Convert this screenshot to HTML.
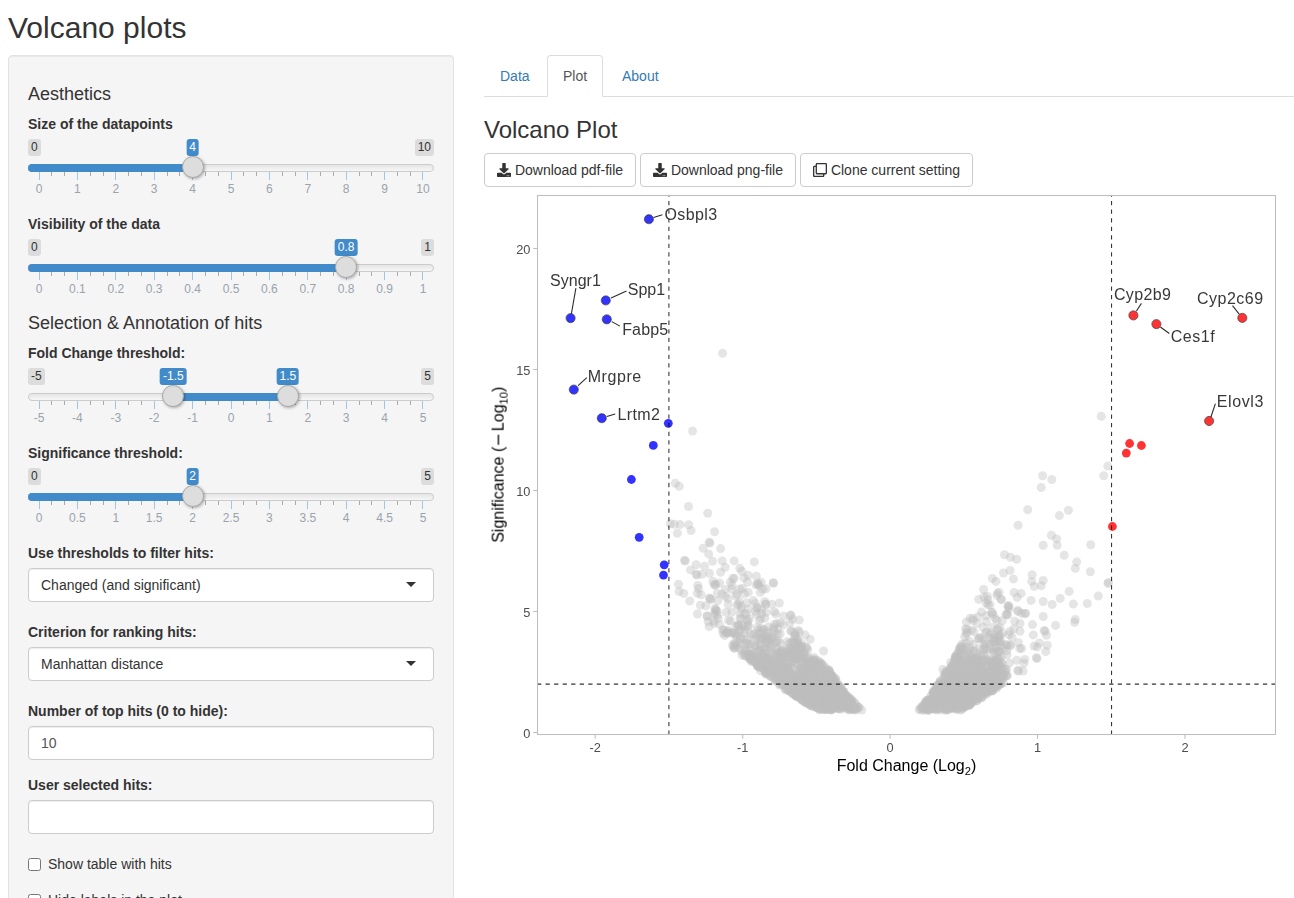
<!DOCTYPE html>
<html lang="en">
<head>
<meta charset="utf-8">
<title>Volcano plots</title>
<style>
*{box-sizing:border-box}
html,body{margin:0;padding:0}
body{font-family:"Liberation Sans",Arial,sans-serif;font-size:14px;line-height:1.42857143;color:#333;background:#fff;width:1294px;height:898px;overflow:hidden;position:relative}
h2{font-size:30px;font-weight:500;line-height:1.1;margin:0;color:#333;font-weight:normal}
h3{font-size:24px;font-weight:normal;line-height:1.1;margin:0;color:#333}
h4{font-size:18px;font-weight:normal;line-height:19px;margin:10px 0;color:#333}
#title{position:absolute;left:8px;top:11px;white-space:nowrap}
#side{position:absolute;left:8px;top:55px;width:446px;height:900px;background:#f5f5f5;border:1px solid #e3e3e3;border-radius:4px;padding:19px;box-shadow:inset 0 1px 1px rgba(0,0,0,.05)}
#side h4:first-child{margin-top:10px}
.fg{margin-bottom:15px}
.fg label{display:block;font-weight:bold;margin-bottom:5px;line-height:20px}
.irs{position:relative;height:60px;width:406px;font-family:"Liberation Sans",Arial,sans-serif}
.irs-line{position:absolute;left:0;top:25px;width:406px;height:8px;border:1px solid #ccc;border-radius:8px;background:linear-gradient(to bottom,#ddd -50%,#fff 150%)}
.irs-bar{position:absolute;top:25px;height:8px;background:#428bca;border-top:1px solid #428bca;border-bottom:1px solid #428bca}
.irs-bar.edge{border-radius:8px 0 0 8px}
.irs-h{position:absolute;top:17px;width:22px;height:22px;border:1px solid #aaa;background:#ddd;border-radius:50%;box-shadow:1px 1px 3px rgba(0,0,0,.3)}
.irs-mm{position:absolute;top:0;font-size:12px;line-height:14.5px;padding:1px 3px;background:rgba(0,0,0,.1);border-radius:3px;color:#333;white-space:nowrap}
.irs-v{position:absolute;top:0;font-size:12px;line-height:14.5px;padding:1px 3px;background:#428bca;border-radius:3px;color:#fff;white-space:nowrap;transform:translateX(-50%)}
.tk{position:absolute;top:33px;width:1px;height:4px;background:#aaa}
.tk.b{height:8px;background:#a1c5e4}
.gt{position:absolute;top:44px;font-size:12px;line-height:12px;color:#99a4ac;transform:translateX(-50%);white-space:nowrap}
.sel{position:relative;height:34px;border:1px solid #ccc;border-radius:4px;background:#fff;padding:6px 12px;line-height:20px;box-shadow:inset 0 1px 1px rgba(0,0,0,.075)}
.sel:after{content:"";position:absolute;right:17px;top:13px;border:5px solid transparent;border-top-color:#333;border-bottom-width:0}
.fg.s{margin-bottom:20px}
.inp{height:34px;border:1px solid #ccc;border-radius:4px;background:#fff;padding:6px 12px;line-height:20px;color:#555;box-shadow:inset 0 1px 1px rgba(0,0,0,.075)}
.cb{position:relative;margin:10px 0 10px 0;padding-left:20px;line-height:20px;height:20px}
.cb i{position:absolute;left:0;top:4px;width:13px;height:13px;border:1px solid #767676;border-radius:2.5px;background:#fff}
#main{position:absolute;left:484px;top:0;width:922px}
#tabs{position:absolute;left:0;top:55px;width:922px;height:42px;border-bottom:1px solid #ddd}
#tabs span{position:absolute;top:0;height:42px;line-height:20px;padding:10px 15px;color:#337ab7;border:1px solid transparent;border-radius:4px 4px 0 0}
#tabs span.act{color:#555;background:#fff;border-color:#ddd;border-bottom-color:#fff}
#ptitle{position:absolute;left:0;top:117px;white-space:nowrap}
.btn{position:absolute;top:153px;height:34px;border:1px solid #ccc;border-radius:4px;background:#fff;color:#333;padding:6px 12px;line-height:20px;white-space:nowrap}
.btn svg{display:inline-block;vertical-align:-2px;margin-right:0}
#plot{position:absolute;left:0;top:190px}
</style>
</head>
<body>
<div id="side">
<h4>Aesthetics</h4>
<div class="fg"><label>Size of the datapoints</label><div class="irs">
<div class="irs-line"></div>
<div class="irs-bar edge" style="left:0;width:164.6px"></div>
<span class="irs-mm" style="left:0">0</span>
<span class="irs-mm" style="right:0">10</span>
<i class="tk b" style="left:10.5px"></i>
<i class="tk" style="left:23.3px"></i>
<i class="tk" style="left:36.1px"></i>
<span class="gt" style="left:11.0px">0</span>
<i class="tk b" style="left:48.9px"></i>
<i class="tk" style="left:61.7px"></i>
<i class="tk" style="left:74.5px"></i>
<span class="gt" style="left:49.4px">1</span>
<i class="tk b" style="left:87.3px"></i>
<i class="tk" style="left:100.1px"></i>
<i class="tk" style="left:112.9px"></i>
<span class="gt" style="left:87.8px">2</span>
<i class="tk b" style="left:125.7px"></i>
<i class="tk" style="left:138.5px"></i>
<i class="tk" style="left:151.3px"></i>
<span class="gt" style="left:126.2px">3</span>
<i class="tk b" style="left:164.1px"></i>
<i class="tk" style="left:176.9px"></i>
<i class="tk" style="left:189.7px"></i>
<span class="gt" style="left:164.6px">4</span>
<i class="tk b" style="left:202.5px"></i>
<i class="tk" style="left:215.3px"></i>
<i class="tk" style="left:228.1px"></i>
<span class="gt" style="left:203.0px">5</span>
<i class="tk b" style="left:240.9px"></i>
<i class="tk" style="left:253.7px"></i>
<i class="tk" style="left:266.5px"></i>
<span class="gt" style="left:241.4px">6</span>
<i class="tk b" style="left:279.3px"></i>
<i class="tk" style="left:292.1px"></i>
<i class="tk" style="left:304.9px"></i>
<span class="gt" style="left:279.8px">7</span>
<i class="tk b" style="left:317.7px"></i>
<i class="tk" style="left:330.5px"></i>
<i class="tk" style="left:343.3px"></i>
<span class="gt" style="left:318.2px">8</span>
<i class="tk b" style="left:356.1px"></i>
<i class="tk" style="left:368.9px"></i>
<i class="tk" style="left:381.7px"></i>
<span class="gt" style="left:356.6px">9</span>
<i class="tk b" style="left:393.9px"></i>
<span class="gt" style="left:395.0px">10</span>
<span class="irs-v" style="left:164.6px">4</span>
<div class="irs-h" style="left:153.6px"></div>
</div></div>
<div class="fg"><label>Visibility of the data</label><div class="irs">
<div class="irs-line"></div>
<div class="irs-bar edge" style="left:0;width:318.2px"></div>
<span class="irs-mm" style="left:0">0</span>
<span class="irs-mm" style="right:0">1</span>
<i class="tk b" style="left:10.5px"></i>
<i class="tk" style="left:23.3px"></i>
<i class="tk" style="left:36.1px"></i>
<span class="gt" style="left:11.0px">0</span>
<i class="tk b" style="left:48.9px"></i>
<i class="tk" style="left:61.7px"></i>
<i class="tk" style="left:74.5px"></i>
<span class="gt" style="left:49.4px">0.1</span>
<i class="tk b" style="left:87.3px"></i>
<i class="tk" style="left:100.1px"></i>
<i class="tk" style="left:112.9px"></i>
<span class="gt" style="left:87.8px">0.2</span>
<i class="tk b" style="left:125.7px"></i>
<i class="tk" style="left:138.5px"></i>
<i class="tk" style="left:151.3px"></i>
<span class="gt" style="left:126.2px">0.3</span>
<i class="tk b" style="left:164.1px"></i>
<i class="tk" style="left:176.9px"></i>
<i class="tk" style="left:189.7px"></i>
<span class="gt" style="left:164.6px">0.4</span>
<i class="tk b" style="left:202.5px"></i>
<i class="tk" style="left:215.3px"></i>
<i class="tk" style="left:228.1px"></i>
<span class="gt" style="left:203.0px">0.5</span>
<i class="tk b" style="left:240.9px"></i>
<i class="tk" style="left:253.7px"></i>
<i class="tk" style="left:266.5px"></i>
<span class="gt" style="left:241.4px">0.6</span>
<i class="tk b" style="left:279.3px"></i>
<i class="tk" style="left:292.1px"></i>
<i class="tk" style="left:304.9px"></i>
<span class="gt" style="left:279.8px">0.7</span>
<i class="tk b" style="left:317.7px"></i>
<i class="tk" style="left:330.5px"></i>
<i class="tk" style="left:343.3px"></i>
<span class="gt" style="left:318.2px">0.8</span>
<i class="tk b" style="left:356.1px"></i>
<i class="tk" style="left:368.9px"></i>
<i class="tk" style="left:381.7px"></i>
<span class="gt" style="left:356.6px">0.9</span>
<i class="tk b" style="left:393.9px"></i>
<span class="gt" style="left:395.0px">1</span>
<span class="irs-v" style="left:318.2px">0.8</span>
<div class="irs-h" style="left:307.2px"></div>
</div></div>
<h4 class="h4b">Selection &amp; Annotation of hits</h4>
<div class="fg"><label>Fold Change threshold:</label><div class="irs">
<div class="irs-line"></div>
<div class="irs-bar" style="left:145.4px;width:115.2px"></div>
<span class="irs-mm" style="left:0">-5</span>
<span class="irs-mm" style="right:0">5</span>
<i class="tk b" style="left:10.5px"></i>
<i class="tk" style="left:23.3px"></i>
<i class="tk" style="left:36.1px"></i>
<span class="gt" style="left:11.0px">-5</span>
<i class="tk b" style="left:48.9px"></i>
<i class="tk" style="left:61.7px"></i>
<i class="tk" style="left:74.5px"></i>
<span class="gt" style="left:49.4px">-4</span>
<i class="tk b" style="left:87.3px"></i>
<i class="tk" style="left:100.1px"></i>
<i class="tk" style="left:112.9px"></i>
<span class="gt" style="left:87.8px">-3</span>
<i class="tk b" style="left:125.7px"></i>
<i class="tk" style="left:138.5px"></i>
<i class="tk" style="left:151.3px"></i>
<span class="gt" style="left:126.2px">-2</span>
<i class="tk b" style="left:164.1px"></i>
<i class="tk" style="left:176.9px"></i>
<i class="tk" style="left:189.7px"></i>
<span class="gt" style="left:164.6px">-1</span>
<i class="tk b" style="left:202.5px"></i>
<i class="tk" style="left:215.3px"></i>
<i class="tk" style="left:228.1px"></i>
<span class="gt" style="left:203.0px">0</span>
<i class="tk b" style="left:240.9px"></i>
<i class="tk" style="left:253.7px"></i>
<i class="tk" style="left:266.5px"></i>
<span class="gt" style="left:241.4px">1</span>
<i class="tk b" style="left:279.3px"></i>
<i class="tk" style="left:292.1px"></i>
<i class="tk" style="left:304.9px"></i>
<span class="gt" style="left:279.8px">2</span>
<i class="tk b" style="left:317.7px"></i>
<i class="tk" style="left:330.5px"></i>
<i class="tk" style="left:343.3px"></i>
<span class="gt" style="left:318.2px">3</span>
<i class="tk b" style="left:356.1px"></i>
<i class="tk" style="left:368.9px"></i>
<i class="tk" style="left:381.7px"></i>
<span class="gt" style="left:356.6px">4</span>
<i class="tk b" style="left:393.9px"></i>
<span class="gt" style="left:395.0px">5</span>
<span class="irs-v" style="left:145.4px">-1.5</span>
<div class="irs-h" style="left:134.4px"></div>
<span class="irs-v" style="left:259.8px">1.5</span>
<div class="irs-h" style="left:248.8px"></div>
</div></div>
<div class="fg"><label>Significance threshold:</label><div class="irs">
<div class="irs-line"></div>
<div class="irs-bar edge" style="left:0;width:164.6px"></div>
<span class="irs-mm" style="left:0">0</span>
<span class="irs-mm" style="right:0">5</span>
<i class="tk b" style="left:10.5px"></i>
<i class="tk" style="left:23.3px"></i>
<i class="tk" style="left:36.1px"></i>
<span class="gt" style="left:11.0px">0</span>
<i class="tk b" style="left:48.9px"></i>
<i class="tk" style="left:61.7px"></i>
<i class="tk" style="left:74.5px"></i>
<span class="gt" style="left:49.4px">0.5</span>
<i class="tk b" style="left:87.3px"></i>
<i class="tk" style="left:100.1px"></i>
<i class="tk" style="left:112.9px"></i>
<span class="gt" style="left:87.8px">1</span>
<i class="tk b" style="left:125.7px"></i>
<i class="tk" style="left:138.5px"></i>
<i class="tk" style="left:151.3px"></i>
<span class="gt" style="left:126.2px">1.5</span>
<i class="tk b" style="left:164.1px"></i>
<i class="tk" style="left:176.9px"></i>
<i class="tk" style="left:189.7px"></i>
<span class="gt" style="left:164.6px">2</span>
<i class="tk b" style="left:202.5px"></i>
<i class="tk" style="left:215.3px"></i>
<i class="tk" style="left:228.1px"></i>
<span class="gt" style="left:203.0px">2.5</span>
<i class="tk b" style="left:240.9px"></i>
<i class="tk" style="left:253.7px"></i>
<i class="tk" style="left:266.5px"></i>
<span class="gt" style="left:241.4px">3</span>
<i class="tk b" style="left:279.3px"></i>
<i class="tk" style="left:292.1px"></i>
<i class="tk" style="left:304.9px"></i>
<span class="gt" style="left:279.8px">3.5</span>
<i class="tk b" style="left:317.7px"></i>
<i class="tk" style="left:330.5px"></i>
<i class="tk" style="left:343.3px"></i>
<span class="gt" style="left:318.2px">4</span>
<i class="tk b" style="left:356.1px"></i>
<i class="tk" style="left:368.9px"></i>
<i class="tk" style="left:381.7px"></i>
<span class="gt" style="left:356.6px">4.5</span>
<i class="tk b" style="left:393.9px"></i>
<span class="gt" style="left:395.0px">5</span>
<span class="irs-v" style="left:164.6px">2</span>
<div class="irs-h" style="left:153.6px"></div>
</div></div>
<div class="fg s"><label>Use thresholds to filter hits:</label><div class="sel">Changed (and significant)</div></div>
<div class="fg s"><label>Criterion for ranking hits:</label><div class="sel">Manhattan distance</div></div>
<div class="fg"><label>Number of top hits (0 to hide):</label><div class="inp">10</div></div>
<div class="fg"><label>User selected hits:</label><div class="inp"></div></div>
<div class="cb" style="margin-top:20px"><i></i>Show table with hits</div>
<div class="cb" style="margin-top:15.5px"><i></i>Hide labels in the plot</div>
</div>
<h2 id="title">Volcano plots</h2>
<div id="main">
<div id="tabs"><span style="left:0">Data</span><span class="act" style="left:63px">Plot</span><span style="left:122px">About</span></div>
<h3 id="ptitle">Volcano Plot</h3>
<div class="btn" style="left:0;width:152px"><svg width="14" height="14" viewBox="0 0 512 512"><path fill="#333" d="M216 0h80c13.300 0 24 10.700 24 24v168h87.700c17.800 0 26.700 21.500 14.100 34.100L269.700 378.300c-7.500 7.500-19.800 7.500-27.300 0L90.100 226.100c-12.600-12.600-3.700-34.100 14.100-34.100H192V24c0-13.300 10.700-24 24-24zm296 376v112c0 13.300-10.700 24-24 24H24c-13.300 0-24-10.700-24-24V376c0-13.300 10.700-24 24-24h146.700l49 49c20.100 20.100 52.500 20.100 72.600 0l49-49H488c13.300 0 24 10.700 24 24zm-124 88c0-11-9-20-20-20s-20 9-20 20 9 20 20 20 20-9 20-20zm64 0c0-11-9-20-20-20s-20 9-20 20 9 20 20 20 20-9 20-20z"/></svg> Download pdf-file</div>
<div class="btn" style="left:156px;width:156px"><svg width="14" height="14" viewBox="0 0 512 512"><path fill="#333" d="M216 0h80c13.300 0 24 10.700 24 24v168h87.700c17.800 0 26.700 21.500 14.100 34.100L269.700 378.300c-7.500 7.500-19.800 7.500-27.300 0L90.100 226.100c-12.600-12.600-3.700-34.100 14.100-34.100H192V24c0-13.300 10.700-24 24-24zm296 376v112c0 13.300-10.700 24-24 24H24c-13.300 0-24-10.700-24-24V376c0-13.300 10.700-24 24-24h146.700l49 49c20.100 20.100 52.500 20.100 72.600 0l49-49H488c13.300 0 24 10.700 24 24zm-124 88c0-11-9-20-20-20s-20 9-20 20 9 20 20 20 20-9 20-20zm64 0c0-11-9-20-20-20s-20 9-20 20 9 20 20 20 20-9 20-20z"/></svg> Download png-file</div>
<div class="btn" style="left:316px;width:173px"><svg width="14" height="14" viewBox="0 0 512 512"><path fill="#333" d="M464 0H144c-26.510 0-48 21.490-48 48v48H48c-26.510 0-48 21.490-48 48v320c0 26.510 21.490 48 48 48h320c26.510 0 48-21.490 48-48v-48h48c26.510 0 48-21.490 48-48V48c0-26.510-21.490-48-48-48zM362 464H54a6 6 0 0 1-6-6V150a6 6 0 0 1 6-6h42v224c0 26.510 21.490 48 48 48h224v42a6 6 0 0 1-6 6zm96-96H150a6 6 0 0 1-6-6V54a6 6 0 0 1 6-6h308a6 6 0 0 1 6 6v308a6 6 0 0 1-6 6z"/></svg> Clone current setting</div>
<svg id="plot" width="800" height="600" viewBox="0 0 800 600" font-family="&quot;Liberation Sans&quot;,Arial,sans-serif">
<rect width="800" height="600" fill="#fff"/>
<g fill="#bebebe" fill-opacity=".4">
<circle cx="343" cy="483.8" r="4.5"/>
<circle cx="329.4" cy="485.6" r="4.5"/>
<circle cx="359.5" cy="503" r="4.5"/>
<circle cx="341.3" cy="507.7" r="4.5"/>
<circle cx="330.6" cy="494.6" r="4.5"/>
<circle cx="266.7" cy="465.9" r="4.5"/>
<circle cx="344.5" cy="490" r="4.5"/>
<circle cx="357.4" cy="515.5" r="4.5"/>
<circle cx="301.5" cy="481.7" r="4.5"/>
<circle cx="281.4" cy="478.1" r="4.5"/>
<circle cx="312.1" cy="487.8" r="4.5"/>
<circle cx="282.6" cy="479.4" r="4.5"/>
<circle cx="362.9" cy="505.9" r="4.5"/>
<circle cx="319.6" cy="478.6" r="4.5"/>
<circle cx="297.5" cy="469.1" r="4.5"/>
<circle cx="339.1" cy="510.2" r="4.5"/>
<circle cx="340.2" cy="518" r="4.5"/>
<circle cx="282.4" cy="483.1" r="4.5"/>
<circle cx="325" cy="509.1" r="4.5"/>
<circle cx="325.7" cy="471" r="4.5"/>
<circle cx="354.5" cy="518.2" r="4.5"/>
<circle cx="333.3" cy="489.3" r="4.5"/>
<circle cx="344.8" cy="485.5" r="4.5"/>
<circle cx="341.5" cy="509.1" r="4.5"/>
<circle cx="334.9" cy="489.8" r="4.5"/>
<circle cx="327.2" cy="503.1" r="4.5"/>
<circle cx="350.6" cy="492.5" r="4.5"/>
<circle cx="303.3" cy="478.1" r="4.5"/>
<circle cx="366.2" cy="515.2" r="4.5"/>
<circle cx="285.6" cy="470.6" r="4.5"/>
<circle cx="289.6" cy="478.7" r="4.5"/>
<circle cx="300" cy="487.1" r="4.5"/>
<circle cx="353.2" cy="500.1" r="4.5"/>
<circle cx="343.4" cy="502.6" r="4.5"/>
<circle cx="335.5" cy="497.9" r="4.5"/>
<circle cx="314" cy="501.9" r="4.5"/>
<circle cx="333.9" cy="499" r="4.5"/>
<circle cx="344.7" cy="501.4" r="4.5"/>
<circle cx="319.4" cy="486.4" r="4.5"/>
<circle cx="309.8" cy="472.5" r="4.5"/>
<circle cx="353.2" cy="513" r="4.5"/>
<circle cx="286.8" cy="479.8" r="4.5"/>
<circle cx="306.7" cy="472.9" r="4.5"/>
<circle cx="335.9" cy="518.3" r="4.5"/>
<circle cx="324.1" cy="504.5" r="4.5"/>
<circle cx="337.9" cy="473.7" r="4.5"/>
<circle cx="269.1" cy="464.9" r="4.5"/>
<circle cx="265.1" cy="467.1" r="4.5"/>
<circle cx="320.5" cy="480.2" r="4.5"/>
<circle cx="280.8" cy="481.8" r="4.5"/>
<circle cx="364" cy="514.1" r="4.5"/>
<circle cx="349" cy="499.4" r="4.5"/>
<circle cx="310.9" cy="492.6" r="4.5"/>
<circle cx="338" cy="475" r="4.5"/>
<circle cx="329" cy="481" r="4.5"/>
<circle cx="342.2" cy="483.2" r="4.5"/>
<circle cx="341.2" cy="519.1" r="4.5"/>
<circle cx="351.5" cy="489.2" r="4.5"/>
<circle cx="299.6" cy="479.9" r="4.5"/>
<circle cx="363.4" cy="511.8" r="4.5"/>
<circle cx="362" cy="507.8" r="4.5"/>
<circle cx="290.6" cy="473" r="4.5"/>
<circle cx="353.9" cy="518.5" r="4.5"/>
<circle cx="360.7" cy="505.8" r="4.5"/>
<circle cx="356.4" cy="496.5" r="4.5"/>
<circle cx="347.3" cy="485.1" r="4.5"/>
<circle cx="305.1" cy="497.4" r="4.5"/>
<circle cx="352.8" cy="513.5" r="4.5"/>
<circle cx="273.7" cy="471" r="4.5"/>
<circle cx="330.9" cy="497.4" r="4.5"/>
<circle cx="298.1" cy="463.4" r="4.5"/>
<circle cx="324.3" cy="498.8" r="4.5"/>
<circle cx="298.4" cy="489.2" r="4.5"/>
<circle cx="319.6" cy="480.6" r="4.5"/>
<circle cx="331.4" cy="492.5" r="4.5"/>
<circle cx="306.3" cy="500.2" r="4.5"/>
<circle cx="313.2" cy="461" r="4.5"/>
<circle cx="317.9" cy="476.1" r="4.5"/>
<circle cx="342.9" cy="517" r="4.5"/>
<circle cx="329.4" cy="500.5" r="4.5"/>
<circle cx="333.8" cy="484.1" r="4.5"/>
<circle cx="321.6" cy="482.2" r="4.5"/>
<circle cx="337.5" cy="511.2" r="4.5"/>
<circle cx="289.6" cy="474.7" r="4.5"/>
<circle cx="312" cy="506.1" r="4.5"/>
<circle cx="345.2" cy="513.4" r="4.5"/>
<circle cx="335.9" cy="502.6" r="4.5"/>
<circle cx="345.5" cy="514.3" r="4.5"/>
<circle cx="349.4" cy="493.9" r="4.5"/>
<circle cx="344.8" cy="498.4" r="4.5"/>
<circle cx="367.2" cy="511.1" r="4.5"/>
<circle cx="274.5" cy="476.1" r="4.5"/>
<circle cx="346.5" cy="491.6" r="4.5"/>
<circle cx="353.7" cy="506.9" r="4.5"/>
<circle cx="295.2" cy="476.6" r="4.5"/>
<circle cx="292.1" cy="490.5" r="4.5"/>
<circle cx="359.5" cy="505.5" r="4.5"/>
<circle cx="317.1" cy="498.3" r="4.5"/>
<circle cx="351.8" cy="517.9" r="4.5"/>
<circle cx="327.7" cy="506.6" r="4.5"/>
<circle cx="356.5" cy="503.1" r="4.5"/>
<circle cx="342.9" cy="498.9" r="4.5"/>
<circle cx="310.6" cy="497.5" r="4.5"/>
<circle cx="342.3" cy="519.4" r="4.5"/>
<circle cx="339.3" cy="508.7" r="4.5"/>
<circle cx="327.8" cy="491.8" r="4.5"/>
<circle cx="318.8" cy="498.8" r="4.5"/>
<circle cx="336.4" cy="486.7" r="4.5"/>
<circle cx="337.1" cy="511.5" r="4.5"/>
<circle cx="281.5" cy="483.7" r="4.5"/>
<circle cx="306.7" cy="498.6" r="4.5"/>
<circle cx="259.6" cy="463.5" r="4.5"/>
<circle cx="341.3" cy="516.9" r="4.5"/>
<circle cx="321.5" cy="506.1" r="4.5"/>
<circle cx="315.8" cy="488.8" r="4.5"/>
<circle cx="312.4" cy="493.3" r="4.5"/>
<circle cx="343.4" cy="519.5" r="4.5"/>
<circle cx="297.8" cy="487.1" r="4.5"/>
<circle cx="292.7" cy="475.9" r="4.5"/>
<circle cx="329.5" cy="498.5" r="4.5"/>
<circle cx="332.7" cy="500.1" r="4.5"/>
<circle cx="335.3" cy="502.8" r="4.5"/>
<circle cx="363.5" cy="509.2" r="4.5"/>
<circle cx="282.2" cy="474.8" r="4.5"/>
<circle cx="335.6" cy="503.8" r="4.5"/>
<circle cx="338.8" cy="511.4" r="4.5"/>
<circle cx="298" cy="494.2" r="4.5"/>
<circle cx="346.3" cy="512.1" r="4.5"/>
<circle cx="331.6" cy="475.3" r="4.5"/>
<circle cx="331.7" cy="517" r="4.5"/>
<circle cx="362" cy="515" r="4.5"/>
<circle cx="343.7" cy="518.3" r="4.5"/>
<circle cx="312.1" cy="468.1" r="4.5"/>
<circle cx="353.2" cy="509.6" r="4.5"/>
<circle cx="326.3" cy="482" r="4.5"/>
<circle cx="294.7" cy="490.3" r="4.5"/>
<circle cx="315.1" cy="493.7" r="4.5"/>
<circle cx="355.6" cy="511.5" r="4.5"/>
<circle cx="331.2" cy="481.6" r="4.5"/>
<circle cx="301.6" cy="485.2" r="4.5"/>
<circle cx="375.1" cy="517.6" r="4.5"/>
<circle cx="269.3" cy="470.3" r="4.5"/>
<circle cx="335.5" cy="485.5" r="4.5"/>
<circle cx="265.6" cy="469.1" r="4.5"/>
<circle cx="347.8" cy="492.7" r="4.5"/>
<circle cx="286.2" cy="471.7" r="4.5"/>
<circle cx="332.7" cy="488.6" r="4.5"/>
<circle cx="362.7" cy="514.8" r="4.5"/>
<circle cx="316.3" cy="489.8" r="4.5"/>
<circle cx="277.2" cy="466.3" r="4.5"/>
<circle cx="320.4" cy="503.3" r="4.5"/>
<circle cx="360.9" cy="518.2" r="4.5"/>
<circle cx="305.8" cy="498.3" r="4.5"/>
<circle cx="336.2" cy="510.9" r="4.5"/>
<circle cx="312.2" cy="491.3" r="4.5"/>
<circle cx="303.6" cy="473.9" r="4.5"/>
<circle cx="332.9" cy="493.9" r="4.5"/>
<circle cx="324" cy="496.9" r="4.5"/>
<circle cx="289.7" cy="470.6" r="4.5"/>
<circle cx="367.5" cy="511.7" r="4.5"/>
<circle cx="351.5" cy="506.2" r="4.5"/>
<circle cx="332.5" cy="480.3" r="4.5"/>
<circle cx="311" cy="504.7" r="4.5"/>
<circle cx="301.3" cy="492.8" r="4.5"/>
<circle cx="317" cy="484.9" r="4.5"/>
<circle cx="319.6" cy="490.1" r="4.5"/>
<circle cx="302.8" cy="493.3" r="4.5"/>
<circle cx="317.8" cy="466.8" r="4.5"/>
<circle cx="335.8" cy="496.2" r="4.5"/>
<circle cx="320.3" cy="511.8" r="4.5"/>
<circle cx="296" cy="465.4" r="4.5"/>
<circle cx="295.3" cy="485.3" r="4.5"/>
<circle cx="272.6" cy="473.5" r="4.5"/>
<circle cx="318.9" cy="491.9" r="4.5"/>
<circle cx="326.8" cy="475.5" r="4.5"/>
<circle cx="326" cy="479.1" r="4.5"/>
<circle cx="356.7" cy="516.1" r="4.5"/>
<circle cx="342.9" cy="500.5" r="4.5"/>
<circle cx="304.5" cy="500.2" r="4.5"/>
<circle cx="273.5" cy="474.9" r="4.5"/>
<circle cx="365.2" cy="508.5" r="4.5"/>
<circle cx="351.4" cy="512.3" r="4.5"/>
<circle cx="346.3" cy="510.6" r="4.5"/>
<circle cx="323.4" cy="471.1" r="4.5"/>
<circle cx="296.6" cy="482.6" r="4.5"/>
<circle cx="297.3" cy="465.3" r="4.5"/>
<circle cx="335.5" cy="519.8" r="4.5"/>
<circle cx="281.2" cy="470.9" r="4.5"/>
<circle cx="366.9" cy="519.2" r="4.5"/>
<circle cx="358.1" cy="512.4" r="4.5"/>
<circle cx="305.7" cy="477.4" r="4.5"/>
<circle cx="341" cy="512.1" r="4.5"/>
<circle cx="326.2" cy="478.1" r="4.5"/>
<circle cx="298.6" cy="494.6" r="4.5"/>
<circle cx="321.4" cy="493.5" r="4.5"/>
<circle cx="318.9" cy="495.2" r="4.5"/>
<circle cx="326.1" cy="508.4" r="4.5"/>
<circle cx="324.1" cy="510.4" r="4.5"/>
<circle cx="322.6" cy="502.4" r="4.5"/>
<circle cx="328.2" cy="480.9" r="4.5"/>
<circle cx="325.8" cy="508.1" r="4.5"/>
<circle cx="356.6" cy="498.4" r="4.5"/>
<circle cx="370.8" cy="520" r="4.5"/>
<circle cx="318.3" cy="498.5" r="4.5"/>
<circle cx="324.4" cy="482.2" r="4.5"/>
<circle cx="314.4" cy="479.5" r="4.5"/>
<circle cx="278.8" cy="478.2" r="4.5"/>
<circle cx="309.2" cy="493.8" r="4.5"/>
<circle cx="284.8" cy="471.7" r="4.5"/>
<circle cx="331.9" cy="514.7" r="4.5"/>
<circle cx="337.2" cy="518.9" r="4.5"/>
<circle cx="322.6" cy="495.2" r="4.5"/>
<circle cx="339.7" cy="496.1" r="4.5"/>
<circle cx="355" cy="508.5" r="4.5"/>
<circle cx="339.4" cy="508.4" r="4.5"/>
<circle cx="316.9" cy="498.6" r="4.5"/>
<circle cx="282.8" cy="484.2" r="4.5"/>
<circle cx="343.4" cy="495.8" r="4.5"/>
<circle cx="328.5" cy="516.1" r="4.5"/>
<circle cx="348.2" cy="516" r="4.5"/>
<circle cx="318.3" cy="482.4" r="4.5"/>
<circle cx="339.1" cy="492" r="4.5"/>
<circle cx="300.5" cy="482.5" r="4.5"/>
<circle cx="299.3" cy="470.5" r="4.5"/>
<circle cx="352.5" cy="514" r="4.5"/>
<circle cx="335.7" cy="506.2" r="4.5"/>
<circle cx="333.3" cy="501.5" r="4.5"/>
<circle cx="335.6" cy="492" r="4.5"/>
<circle cx="313.2" cy="504.6" r="4.5"/>
<circle cx="313.7" cy="469.1" r="4.5"/>
<circle cx="321" cy="511.1" r="4.5"/>
<circle cx="337.3" cy="512.1" r="4.5"/>
<circle cx="364.9" cy="511.5" r="4.5"/>
<circle cx="267.2" cy="471.3" r="4.5"/>
<circle cx="294" cy="480.5" r="4.5"/>
<circle cx="334" cy="479.8" r="4.5"/>
<circle cx="340.9" cy="476.8" r="4.5"/>
<circle cx="341.6" cy="506" r="4.5"/>
<circle cx="355.8" cy="508.1" r="4.5"/>
<circle cx="347.5" cy="487.7" r="4.5"/>
<circle cx="282.8" cy="475.6" r="4.5"/>
<circle cx="282" cy="467.7" r="4.5"/>
<circle cx="322.4" cy="479.9" r="4.5"/>
<circle cx="315.5" cy="494.8" r="4.5"/>
<circle cx="307.5" cy="498.8" r="4.5"/>
<circle cx="306.9" cy="501.6" r="4.5"/>
<circle cx="293" cy="485.3" r="4.5"/>
<circle cx="330.8" cy="486.2" r="4.5"/>
<circle cx="366.4" cy="515.4" r="4.5"/>
<circle cx="322.2" cy="489.4" r="4.5"/>
<circle cx="327.2" cy="502.3" r="4.5"/>
<circle cx="358" cy="503.9" r="4.5"/>
<circle cx="265.2" cy="467.5" r="4.5"/>
<circle cx="357.3" cy="517.9" r="4.5"/>
<circle cx="366.9" cy="509.2" r="4.5"/>
<circle cx="363.9" cy="509.1" r="4.5"/>
<circle cx="343.8" cy="503.8" r="4.5"/>
<circle cx="358" cy="509.7" r="4.5"/>
<circle cx="305.3" cy="496.3" r="4.5"/>
<circle cx="308.7" cy="500.3" r="4.5"/>
<circle cx="342.5" cy="517.8" r="4.5"/>
<circle cx="350" cy="506.6" r="4.5"/>
<circle cx="352.7" cy="498.9" r="4.5"/>
<circle cx="364" cy="509.7" r="4.5"/>
<circle cx="273.4" cy="476.2" r="4.5"/>
<circle cx="312.8" cy="493.1" r="4.5"/>
<circle cx="353.6" cy="501.5" r="4.5"/>
<circle cx="344.7" cy="508.4" r="4.5"/>
<circle cx="341.2" cy="494.4" r="4.5"/>
<circle cx="358.6" cy="512.9" r="4.5"/>
<circle cx="341.8" cy="506.9" r="4.5"/>
<circle cx="374.5" cy="517.2" r="4.5"/>
<circle cx="333.2" cy="472.9" r="4.5"/>
<circle cx="331.9" cy="511.9" r="4.5"/>
<circle cx="275.7" cy="469.3" r="4.5"/>
<circle cx="366" cy="510.8" r="4.5"/>
<circle cx="317.7" cy="483.5" r="4.5"/>
<circle cx="335.8" cy="504.8" r="4.5"/>
<circle cx="302.7" cy="489.8" r="4.5"/>
<circle cx="347.1" cy="485.7" r="4.5"/>
<circle cx="335.8" cy="472.1" r="4.5"/>
<circle cx="310.6" cy="460.7" r="4.5"/>
<circle cx="275.2" cy="471.3" r="4.5"/>
<circle cx="329.3" cy="480.3" r="4.5"/>
<circle cx="364.6" cy="509.2" r="4.5"/>
<circle cx="329.4" cy="498.6" r="4.5"/>
<circle cx="342" cy="504.1" r="4.5"/>
<circle cx="338.6" cy="502.5" r="4.5"/>
<circle cx="341.8" cy="519.5" r="4.5"/>
<circle cx="325.1" cy="511.7" r="4.5"/>
<circle cx="286.9" cy="481.6" r="4.5"/>
<circle cx="367.4" cy="513.6" r="4.5"/>
<circle cx="320" cy="485.7" r="4.5"/>
<circle cx="350.6" cy="510" r="4.5"/>
<circle cx="343.1" cy="513.7" r="4.5"/>
<circle cx="308.7" cy="503.6" r="4.5"/>
<circle cx="288.3" cy="478.1" r="4.5"/>
<circle cx="339.2" cy="519.6" r="4.5"/>
<circle cx="356.7" cy="516.6" r="4.5"/>
<circle cx="321.5" cy="499.5" r="4.5"/>
<circle cx="344" cy="502.4" r="4.5"/>
<circle cx="330.2" cy="500" r="4.5"/>
<circle cx="368.2" cy="510.4" r="4.5"/>
<circle cx="329.6" cy="500.3" r="4.5"/>
<circle cx="276.6" cy="480.7" r="4.5"/>
<circle cx="326.1" cy="515.2" r="4.5"/>
<circle cx="320.6" cy="470.4" r="4.5"/>
<circle cx="314.4" cy="466.2" r="4.5"/>
<circle cx="339.1" cy="489.9" r="4.5"/>
<circle cx="312.8" cy="506" r="4.5"/>
<circle cx="308.3" cy="463.4" r="4.5"/>
<circle cx="291.4" cy="482.3" r="4.5"/>
<circle cx="326" cy="503.9" r="4.5"/>
<circle cx="328.8" cy="516.3" r="4.5"/>
<circle cx="340.4" cy="514.5" r="4.5"/>
<circle cx="339.2" cy="489.8" r="4.5"/>
<circle cx="360.4" cy="517.2" r="4.5"/>
<circle cx="320.5" cy="501.5" r="4.5"/>
<circle cx="351.8" cy="497.7" r="4.5"/>
<circle cx="341.9" cy="510.2" r="4.5"/>
<circle cx="313.5" cy="501.5" r="4.5"/>
<circle cx="276" cy="472.3" r="4.5"/>
<circle cx="293.3" cy="490.5" r="4.5"/>
<circle cx="305.1" cy="487.4" r="4.5"/>
<circle cx="294.2" cy="488.3" r="4.5"/>
<circle cx="340.6" cy="493.5" r="4.5"/>
<circle cx="333.6" cy="517.4" r="4.5"/>
<circle cx="311.5" cy="467.4" r="4.5"/>
<circle cx="318" cy="490.4" r="4.5"/>
<circle cx="347.6" cy="508.1" r="4.5"/>
<circle cx="336.8" cy="473.2" r="4.5"/>
<circle cx="312.1" cy="497.4" r="4.5"/>
<circle cx="321.6" cy="512.5" r="4.5"/>
<circle cx="351.7" cy="516.7" r="4.5"/>
<circle cx="293.8" cy="471" r="4.5"/>
<circle cx="332.4" cy="517.3" r="4.5"/>
<circle cx="283.3" cy="479.4" r="4.5"/>
<circle cx="295.9" cy="480.3" r="4.5"/>
<circle cx="336.6" cy="516.4" r="4.5"/>
<circle cx="352.2" cy="501.5" r="4.5"/>
<circle cx="357.7" cy="515.2" r="4.5"/>
<circle cx="294.1" cy="471.1" r="4.5"/>
<circle cx="319.7" cy="487.8" r="4.5"/>
<circle cx="320.5" cy="511.6" r="4.5"/>
<circle cx="347.3" cy="519.4" r="4.5"/>
<circle cx="354.4" cy="515.1" r="4.5"/>
<circle cx="319" cy="486.6" r="4.5"/>
<circle cx="348.9" cy="506.6" r="4.5"/>
<circle cx="308.8" cy="459.5" r="4.5"/>
<circle cx="359.8" cy="501.5" r="4.5"/>
<circle cx="334.1" cy="474.9" r="4.5"/>
<circle cx="290.5" cy="489.2" r="4.5"/>
<circle cx="330" cy="501.5" r="4.5"/>
<circle cx="314.1" cy="488.6" r="4.5"/>
<circle cx="322.7" cy="473" r="4.5"/>
<circle cx="348.8" cy="518" r="4.5"/>
<circle cx="352.8" cy="514.4" r="4.5"/>
<circle cx="347.1" cy="498.1" r="4.5"/>
<circle cx="304.7" cy="500.9" r="4.5"/>
<circle cx="290.6" cy="480.1" r="4.5"/>
<circle cx="361.5" cy="507.3" r="4.5"/>
<circle cx="312.6" cy="504.4" r="4.5"/>
<circle cx="343.3" cy="506.3" r="4.5"/>
<circle cx="324.8" cy="482.2" r="4.5"/>
<circle cx="354.8" cy="495.2" r="4.5"/>
<circle cx="265.4" cy="464.6" r="4.5"/>
<circle cx="329.8" cy="510.3" r="4.5"/>
<circle cx="317.5" cy="494.2" r="4.5"/>
<circle cx="304.5" cy="492" r="4.5"/>
<circle cx="338.5" cy="483.5" r="4.5"/>
<circle cx="348.3" cy="489.7" r="4.5"/>
<circle cx="307.1" cy="464.5" r="4.5"/>
<circle cx="329" cy="504.7" r="4.5"/>
<circle cx="358.3" cy="514.8" r="4.5"/>
<circle cx="314.6" cy="477.4" r="4.5"/>
<circle cx="318.6" cy="495.2" r="4.5"/>
<circle cx="305.3" cy="500.6" r="4.5"/>
<circle cx="346.4" cy="508.9" r="4.5"/>
<circle cx="299.1" cy="474" r="4.5"/>
<circle cx="347.1" cy="511.5" r="4.5"/>
<circle cx="296.6" cy="475.2" r="4.5"/>
<circle cx="353.8" cy="505.5" r="4.5"/>
<circle cx="342.4" cy="498.5" r="4.5"/>
<circle cx="278" cy="477.3" r="4.5"/>
<circle cx="359.7" cy="505.7" r="4.5"/>
<circle cx="347.6" cy="517" r="4.5"/>
<circle cx="330.8" cy="471.5" r="4.5"/>
<circle cx="301.2" cy="480.3" r="4.5"/>
<circle cx="342.9" cy="497.7" r="4.5"/>
<circle cx="327.8" cy="476.3" r="4.5"/>
<circle cx="318.5" cy="462.1" r="4.5"/>
<circle cx="289.9" cy="483" r="4.5"/>
<circle cx="329.6" cy="480.2" r="4.5"/>
<circle cx="359.8" cy="510.9" r="4.5"/>
<circle cx="335.1" cy="508.6" r="4.5"/>
<circle cx="311.6" cy="468.5" r="4.5"/>
<circle cx="307.3" cy="489.5" r="4.5"/>
<circle cx="333.6" cy="493.4" r="4.5"/>
<circle cx="297" cy="481.9" r="4.5"/>
<circle cx="340.5" cy="500.6" r="4.5"/>
<circle cx="316.6" cy="486.9" r="4.5"/>
<circle cx="314.7" cy="497.2" r="4.5"/>
<circle cx="333.9" cy="508.8" r="4.5"/>
<circle cx="326.7" cy="506.9" r="4.5"/>
<circle cx="361.8" cy="505.4" r="4.5"/>
<circle cx="333.2" cy="514.6" r="4.5"/>
<circle cx="298.1" cy="489.6" r="4.5"/>
<circle cx="303.5" cy="490.7" r="4.5"/>
<circle cx="299.3" cy="494.5" r="4.5"/>
<circle cx="331.7" cy="497.8" r="4.5"/>
<circle cx="358.3" cy="501.5" r="4.5"/>
<circle cx="318.4" cy="464" r="4.5"/>
<circle cx="313.5" cy="491.6" r="4.5"/>
<circle cx="338.4" cy="479.8" r="4.5"/>
<circle cx="340.2" cy="493.1" r="4.5"/>
<circle cx="347.7" cy="505.1" r="4.5"/>
<circle cx="337.6" cy="500" r="4.5"/>
<circle cx="331.1" cy="477.3" r="4.5"/>
<circle cx="317.2" cy="482.9" r="4.5"/>
<circle cx="300.2" cy="484.3" r="4.5"/>
<circle cx="325.8" cy="483" r="4.5"/>
<circle cx="329.5" cy="503.8" r="4.5"/>
<circle cx="266.8" cy="469.2" r="4.5"/>
<circle cx="344.9" cy="495.1" r="4.5"/>
<circle cx="317.6" cy="504.5" r="4.5"/>
<circle cx="338.3" cy="510.9" r="4.5"/>
<circle cx="311.7" cy="504.1" r="4.5"/>
<circle cx="338.6" cy="502.2" r="4.5"/>
<circle cx="351.7" cy="499.6" r="4.5"/>
<circle cx="327.1" cy="490" r="4.5"/>
<circle cx="366.4" cy="513.4" r="4.5"/>
<circle cx="275.6" cy="477.3" r="4.5"/>
<circle cx="347.3" cy="494.7" r="4.5"/>
<circle cx="347.5" cy="510.9" r="4.5"/>
<circle cx="324.2" cy="511.1" r="4.5"/>
<circle cx="357.3" cy="498" r="4.5"/>
<circle cx="329.5" cy="470.3" r="4.5"/>
<circle cx="323.1" cy="480.1" r="4.5"/>
<circle cx="331.3" cy="515.2" r="4.5"/>
<circle cx="364" cy="517" r="4.5"/>
<circle cx="328.1" cy="480.3" r="4.5"/>
<circle cx="354.7" cy="497.2" r="4.5"/>
<circle cx="313.9" cy="498.4" r="4.5"/>
<circle cx="325.5" cy="508.4" r="4.5"/>
<circle cx="370" cy="512" r="4.5"/>
<circle cx="355.4" cy="508.3" r="4.5"/>
<circle cx="365.2" cy="518.8" r="4.5"/>
<circle cx="343.5" cy="502" r="4.5"/>
<circle cx="326.7" cy="473" r="4.5"/>
<circle cx="340.6" cy="515.4" r="4.5"/>
<circle cx="337" cy="487.5" r="4.5"/>
<circle cx="377.8" cy="520.1" r="4.5"/>
<circle cx="326.7" cy="514.6" r="4.5"/>
<circle cx="366" cy="516.7" r="4.5"/>
<circle cx="297.7" cy="461" r="4.5"/>
<circle cx="319.8" cy="494.8" r="4.5"/>
<circle cx="330.2" cy="491.9" r="4.5"/>
<circle cx="322.5" cy="491.2" r="4.5"/>
<circle cx="278.6" cy="466.6" r="4.5"/>
<circle cx="321.7" cy="498.7" r="4.5"/>
<circle cx="357.8" cy="504.4" r="4.5"/>
<circle cx="327.6" cy="511.3" r="4.5"/>
<circle cx="355.1" cy="498.6" r="4.5"/>
<circle cx="350.6" cy="500.9" r="4.5"/>
<circle cx="322.1" cy="495.8" r="4.5"/>
<circle cx="273.5" cy="475.5" r="4.5"/>
<circle cx="284.2" cy="468.5" r="4.5"/>
<circle cx="297.9" cy="461.9" r="4.5"/>
<circle cx="295.5" cy="488.8" r="4.5"/>
<circle cx="353" cy="496.1" r="4.5"/>
<circle cx="349.8" cy="496.4" r="4.5"/>
<circle cx="340.8" cy="494.8" r="4.5"/>
<circle cx="316" cy="488.3" r="4.5"/>
<circle cx="318.8" cy="510.3" r="4.5"/>
<circle cx="345.5" cy="505.2" r="4.5"/>
<circle cx="325" cy="495.7" r="4.5"/>
<circle cx="352.4" cy="499.4" r="4.5"/>
<circle cx="338.4" cy="500" r="4.5"/>
<circle cx="316.2" cy="507.1" r="4.5"/>
<circle cx="307.3" cy="493.2" r="4.5"/>
<circle cx="301.4" cy="483.7" r="4.5"/>
<circle cx="330.3" cy="479.5" r="4.5"/>
<circle cx="286.2" cy="486.4" r="4.5"/>
<circle cx="337" cy="477.7" r="4.5"/>
<circle cx="268.8" cy="467.1" r="4.5"/>
<circle cx="275.8" cy="477" r="4.5"/>
<circle cx="299.9" cy="472.7" r="4.5"/>
<circle cx="311.4" cy="490.8" r="4.5"/>
<circle cx="292.1" cy="471" r="4.5"/>
<circle cx="358.6" cy="503" r="4.5"/>
<circle cx="333.2" cy="478.2" r="4.5"/>
<circle cx="261" cy="465.8" r="4.5"/>
<circle cx="319" cy="487.2" r="4.5"/>
<circle cx="349.8" cy="516.9" r="4.5"/>
<circle cx="343.9" cy="509.8" r="4.5"/>
<circle cx="369.5" cy="518.8" r="4.5"/>
<circle cx="322.2" cy="509.3" r="4.5"/>
<circle cx="359.6" cy="509.9" r="4.5"/>
<circle cx="344.9" cy="479.8" r="4.5"/>
<circle cx="319" cy="506.3" r="4.5"/>
<circle cx="322.7" cy="482.5" r="4.5"/>
<circle cx="357.8" cy="501.7" r="4.5"/>
<circle cx="347.9" cy="511.9" r="4.5"/>
<circle cx="325.5" cy="485" r="4.5"/>
<circle cx="342.1" cy="493.2" r="4.5"/>
<circle cx="347.9" cy="486.8" r="4.5"/>
<circle cx="371.7" cy="514" r="4.5"/>
<circle cx="315.4" cy="465.9" r="4.5"/>
<circle cx="329.9" cy="512" r="4.5"/>
<circle cx="341.5" cy="513.2" r="4.5"/>
<circle cx="325.5" cy="513.7" r="4.5"/>
<circle cx="330.2" cy="483.9" r="4.5"/>
<circle cx="353.7" cy="495.9" r="4.5"/>
<circle cx="341.5" cy="479.7" r="4.5"/>
<circle cx="333.2" cy="507.2" r="4.5"/>
<circle cx="313.1" cy="502.1" r="4.5"/>
<circle cx="325.2" cy="476.7" r="4.5"/>
<circle cx="335.8" cy="505.8" r="4.5"/>
<circle cx="313.7" cy="506.3" r="4.5"/>
<circle cx="320.5" cy="483.3" r="4.5"/>
<circle cx="351" cy="503.1" r="4.5"/>
<circle cx="335.9" cy="475.6" r="4.5"/>
<circle cx="294.1" cy="478.2" r="4.5"/>
<circle cx="349.6" cy="510.9" r="4.5"/>
<circle cx="356.6" cy="519.2" r="4.5"/>
<circle cx="320" cy="507.9" r="4.5"/>
<circle cx="351.2" cy="494.1" r="4.5"/>
<circle cx="348.3" cy="505.3" r="4.5"/>
<circle cx="301.9" cy="472.5" r="4.5"/>
<circle cx="282.3" cy="480.5" r="4.5"/>
<circle cx="291.7" cy="482.8" r="4.5"/>
<circle cx="351.4" cy="488.4" r="4.5"/>
<circle cx="342.1" cy="498" r="4.5"/>
<circle cx="365.7" cy="514.8" r="4.5"/>
<circle cx="363" cy="512.5" r="4.5"/>
<circle cx="269.4" cy="470.6" r="4.5"/>
<circle cx="330.2" cy="491" r="4.5"/>
<circle cx="329.9" cy="491" r="4.5"/>
<circle cx="322.8" cy="513" r="4.5"/>
<circle cx="295.2" cy="488.9" r="4.5"/>
<circle cx="301" cy="462.9" r="4.5"/>
<circle cx="322" cy="494.7" r="4.5"/>
<circle cx="347.7" cy="509.7" r="4.5"/>
<circle cx="327.7" cy="514.7" r="4.5"/>
<circle cx="314.2" cy="486.7" r="4.5"/>
<circle cx="311.3" cy="486.8" r="4.5"/>
<circle cx="348.5" cy="491.6" r="4.5"/>
<circle cx="365.1" cy="520.1" r="4.5"/>
<circle cx="319.3" cy="491.7" r="4.5"/>
<circle cx="328.6" cy="485.1" r="4.5"/>
<circle cx="313.2" cy="504" r="4.5"/>
<circle cx="317" cy="478.6" r="4.5"/>
<circle cx="365.6" cy="517.4" r="4.5"/>
<circle cx="343.1" cy="495" r="4.5"/>
<circle cx="276.3" cy="471.6" r="4.5"/>
<circle cx="346" cy="495.8" r="4.5"/>
<circle cx="338.1" cy="517.6" r="4.5"/>
<circle cx="314.7" cy="500.1" r="4.5"/>
<circle cx="314.5" cy="500.6" r="4.5"/>
<circle cx="318.7" cy="503.8" r="4.5"/>
<circle cx="300.3" cy="492.6" r="4.5"/>
<circle cx="338.8" cy="496.4" r="4.5"/>
<circle cx="354.1" cy="513" r="4.5"/>
<circle cx="304.2" cy="479.1" r="4.5"/>
<circle cx="316.7" cy="471.8" r="4.5"/>
<circle cx="338.1" cy="481" r="4.5"/>
<circle cx="357.2" cy="499.4" r="4.5"/>
<circle cx="325.9" cy="505.9" r="4.5"/>
<circle cx="323.9" cy="511.9" r="4.5"/>
<circle cx="335.6" cy="500.9" r="4.5"/>
<circle cx="335.8" cy="484.6" r="4.5"/>
<circle cx="314" cy="463.4" r="4.5"/>
<circle cx="318" cy="510.1" r="4.5"/>
<circle cx="303" cy="490.4" r="4.5"/>
<circle cx="287" cy="485.8" r="4.5"/>
<circle cx="348.5" cy="499.7" r="4.5"/>
<circle cx="343.3" cy="494.5" r="4.5"/>
<circle cx="332.6" cy="500" r="4.5"/>
<circle cx="356.5" cy="514.8" r="4.5"/>
<circle cx="298.6" cy="489.8" r="4.5"/>
<circle cx="307.9" cy="483.6" r="4.5"/>
<circle cx="324" cy="472.9" r="4.5"/>
<circle cx="325" cy="476.5" r="4.5"/>
<circle cx="305.6" cy="489.3" r="4.5"/>
<circle cx="324.6" cy="467.6" r="4.5"/>
<circle cx="340.1" cy="490.5" r="4.5"/>
<circle cx="363.9" cy="507.6" r="4.5"/>
<circle cx="342.8" cy="513" r="4.5"/>
<circle cx="353.6" cy="501.5" r="4.5"/>
<circle cx="318.1" cy="491.7" r="4.5"/>
<circle cx="344.8" cy="519.3" r="4.5"/>
<circle cx="323.2" cy="478.5" r="4.5"/>
<circle cx="319.9" cy="499.4" r="4.5"/>
<circle cx="333.7" cy="518" r="4.5"/>
<circle cx="325.7" cy="506.2" r="4.5"/>
<circle cx="313.3" cy="491.1" r="4.5"/>
<circle cx="313.7" cy="506.6" r="4.5"/>
<circle cx="282.4" cy="468" r="4.5"/>
<circle cx="369" cy="516" r="4.5"/>
<circle cx="327.6" cy="505.6" r="4.5"/>
<circle cx="302.7" cy="488.8" r="4.5"/>
<circle cx="318.5" cy="494.1" r="4.5"/>
<circle cx="360.1" cy="510.1" r="4.5"/>
<circle cx="351.6" cy="493.4" r="4.5"/>
<circle cx="289.7" cy="483.3" r="4.5"/>
<circle cx="338.9" cy="516" r="4.5"/>
<circle cx="331.2" cy="509.2" r="4.5"/>
<circle cx="310.7" cy="491.6" r="4.5"/>
<circle cx="360.2" cy="515.8" r="4.5"/>
<circle cx="360.9" cy="513.3" r="4.5"/>
<circle cx="341" cy="501.1" r="4.5"/>
<circle cx="335.9" cy="502.5" r="4.5"/>
<circle cx="319.2" cy="495.3" r="4.5"/>
<circle cx="319.4" cy="468.6" r="4.5"/>
<circle cx="328.5" cy="486.1" r="4.5"/>
<circle cx="344.2" cy="516" r="4.5"/>
<circle cx="358" cy="501.7" r="4.5"/>
<circle cx="282.3" cy="475.7" r="4.5"/>
<circle cx="311.8" cy="505.1" r="4.5"/>
<circle cx="339.1" cy="492.3" r="4.5"/>
<circle cx="323.4" cy="510.1" r="4.5"/>
<circle cx="318.1" cy="507.6" r="4.5"/>
<circle cx="355.2" cy="504.4" r="4.5"/>
<circle cx="338.8" cy="519.1" r="4.5"/>
<circle cx="319.3" cy="508" r="4.5"/>
<circle cx="293.3" cy="481.4" r="4.5"/>
<circle cx="319.3" cy="506.3" r="4.5"/>
<circle cx="332.8" cy="499.8" r="4.5"/>
<circle cx="327.1" cy="506.9" r="4.5"/>
<circle cx="349.7" cy="500.7" r="4.5"/>
<circle cx="315.2" cy="507.9" r="4.5"/>
<circle cx="346.9" cy="519.9" r="4.5"/>
<circle cx="346.9" cy="496.3" r="4.5"/>
<circle cx="307.9" cy="490.8" r="4.5"/>
<circle cx="353.6" cy="511.1" r="4.5"/>
<circle cx="338.4" cy="508.5" r="4.5"/>
<circle cx="305.3" cy="486.6" r="4.5"/>
<circle cx="347.5" cy="485.2" r="4.5"/>
<circle cx="354.8" cy="518.9" r="4.5"/>
<circle cx="345.2" cy="492.4" r="4.5"/>
<circle cx="328.9" cy="488" r="4.5"/>
<circle cx="366.9" cy="511" r="4.5"/>
<circle cx="314.6" cy="468.9" r="4.5"/>
<circle cx="332.5" cy="506.4" r="4.5"/>
<circle cx="334.1" cy="506.5" r="4.5"/>
<circle cx="307.9" cy="485.4" r="4.5"/>
<circle cx="321" cy="474.3" r="4.5"/>
<circle cx="335.9" cy="504.3" r="4.5"/>
<circle cx="320.5" cy="509" r="4.5"/>
<circle cx="322.7" cy="493.7" r="4.5"/>
<circle cx="298.2" cy="490.8" r="4.5"/>
<circle cx="301.6" cy="499.7" r="4.5"/>
<circle cx="329.6" cy="486" r="4.5"/>
<circle cx="326.4" cy="502.3" r="4.5"/>
<circle cx="353.1" cy="497.6" r="4.5"/>
<circle cx="316.7" cy="479.8" r="4.5"/>
<circle cx="344.7" cy="497.9" r="4.5"/>
<circle cx="351.2" cy="509.8" r="4.5"/>
<circle cx="334.4" cy="479.4" r="4.5"/>
<circle cx="364.2" cy="518.7" r="4.5"/>
<circle cx="321.6" cy="480.9" r="4.5"/>
<circle cx="320.9" cy="478.6" r="4.5"/>
<circle cx="342" cy="501.2" r="4.5"/>
<circle cx="316.2" cy="487.2" r="4.5"/>
<circle cx="351.1" cy="505.6" r="4.5"/>
<circle cx="307.5" cy="496.3" r="4.5"/>
<circle cx="349.2" cy="504.4" r="4.5"/>
<circle cx="317" cy="489.9" r="4.5"/>
<circle cx="331.1" cy="493.4" r="4.5"/>
<circle cx="364.7" cy="516.6" r="4.5"/>
<circle cx="297.8" cy="477.7" r="4.5"/>
<circle cx="300" cy="488.8" r="4.5"/>
<circle cx="309.4" cy="498.9" r="4.5"/>
<circle cx="352" cy="506.6" r="4.5"/>
<circle cx="328.6" cy="502.1" r="4.5"/>
<circle cx="289.8" cy="471.2" r="4.5"/>
<circle cx="328.5" cy="504.8" r="4.5"/>
<circle cx="353.5" cy="498.7" r="4.5"/>
<circle cx="318.6" cy="500" r="4.5"/>
<circle cx="294.7" cy="484.2" r="4.5"/>
<circle cx="328.3" cy="508.3" r="4.5"/>
<circle cx="319.1" cy="510.3" r="4.5"/>
<circle cx="348.8" cy="488.4" r="4.5"/>
<circle cx="322.3" cy="495.1" r="4.5"/>
<circle cx="325.2" cy="506" r="4.5"/>
<circle cx="334.7" cy="518.3" r="4.5"/>
<circle cx="344.6" cy="505.1" r="4.5"/>
<circle cx="332.5" cy="514.6" r="4.5"/>
<circle cx="344.1" cy="499.4" r="4.5"/>
<circle cx="353" cy="492.1" r="4.5"/>
<circle cx="337.7" cy="478" r="4.5"/>
<circle cx="363.6" cy="513.1" r="4.5"/>
<circle cx="336" cy="499.1" r="4.5"/>
<circle cx="335.4" cy="492.4" r="4.5"/>
<circle cx="334.1" cy="470.7" r="4.5"/>
<circle cx="319" cy="483.9" r="4.5"/>
<circle cx="287" cy="485.5" r="4.5"/>
<circle cx="273.4" cy="475.9" r="4.5"/>
<circle cx="303.6" cy="492.8" r="4.5"/>
<circle cx="351.3" cy="508.9" r="4.5"/>
<circle cx="353.9" cy="504.1" r="4.5"/>
<circle cx="326.2" cy="506.3" r="4.5"/>
<circle cx="320.1" cy="463.7" r="4.5"/>
<circle cx="323.7" cy="501.9" r="4.5"/>
<circle cx="341.6" cy="495.5" r="4.5"/>
<circle cx="308.8" cy="504.1" r="4.5"/>
<circle cx="282" cy="482" r="4.5"/>
<circle cx="295.3" cy="493.9" r="4.5"/>
<circle cx="300.9" cy="493.1" r="4.5"/>
<circle cx="315.5" cy="484.9" r="4.5"/>
<circle cx="300" cy="486.4" r="4.5"/>
<circle cx="277.1" cy="473.4" r="4.5"/>
<circle cx="327.7" cy="497.7" r="4.5"/>
<circle cx="301.3" cy="498.8" r="4.5"/>
<circle cx="338.4" cy="502.1" r="4.5"/>
<circle cx="344.9" cy="511.9" r="4.5"/>
<circle cx="337.3" cy="499.4" r="4.5"/>
<circle cx="307.7" cy="488.9" r="4.5"/>
<circle cx="304.2" cy="461.6" r="4.5"/>
<circle cx="313.2" cy="494.1" r="4.5"/>
<circle cx="286.7" cy="468.5" r="4.5"/>
<circle cx="362.3" cy="509.9" r="4.5"/>
<circle cx="329.5" cy="513.8" r="4.5"/>
<circle cx="317.8" cy="501.9" r="4.5"/>
<circle cx="352.8" cy="515.4" r="4.5"/>
<circle cx="339.4" cy="512.1" r="4.5"/>
<circle cx="340.9" cy="498.3" r="4.5"/>
<circle cx="284.5" cy="482.4" r="4.5"/>
<circle cx="282.6" cy="481.9" r="4.5"/>
<circle cx="322.8" cy="499.4" r="4.5"/>
<circle cx="325.2" cy="505" r="4.5"/>
<circle cx="345.5" cy="481.1" r="4.5"/>
<circle cx="297.4" cy="476.5" r="4.5"/>
<circle cx="303.8" cy="477.8" r="4.5"/>
<circle cx="326.9" cy="493.1" r="4.5"/>
<circle cx="354.9" cy="505" r="4.5"/>
<circle cx="350.5" cy="497" r="4.5"/>
<circle cx="344.8" cy="507.4" r="4.5"/>
<circle cx="294.6" cy="467" r="4.5"/>
<circle cx="315.6" cy="463.7" r="4.5"/>
<circle cx="313.9" cy="468.5" r="4.5"/>
<circle cx="363.8" cy="511.5" r="4.5"/>
<circle cx="338.7" cy="492.1" r="4.5"/>
<circle cx="308" cy="485.6" r="4.5"/>
<circle cx="326.1" cy="479.5" r="4.5"/>
<circle cx="346.2" cy="512.4" r="4.5"/>
<circle cx="365.1" cy="518.8" r="4.5"/>
<circle cx="324.3" cy="468.4" r="4.5"/>
<circle cx="327.2" cy="474.4" r="4.5"/>
<circle cx="347.2" cy="493.1" r="4.5"/>
<circle cx="295.7" cy="495" r="4.5"/>
<circle cx="312" cy="494.6" r="4.5"/>
<circle cx="332.2" cy="491.9" r="4.5"/>
<circle cx="323.7" cy="495.5" r="4.5"/>
<circle cx="330.2" cy="512.2" r="4.5"/>
<circle cx="347.8" cy="509.8" r="4.5"/>
<circle cx="295.6" cy="481.5" r="4.5"/>
<circle cx="281.8" cy="474.7" r="4.5"/>
<circle cx="346" cy="502.6" r="4.5"/>
<circle cx="324.3" cy="499.9" r="4.5"/>
<circle cx="307.5" cy="485.2" r="4.5"/>
<circle cx="271.4" cy="472.1" r="4.5"/>
<circle cx="327.3" cy="475.7" r="4.5"/>
<circle cx="334.2" cy="491.7" r="4.5"/>
<circle cx="343" cy="501.3" r="4.5"/>
<circle cx="285.7" cy="474.5" r="4.5"/>
<circle cx="324.1" cy="481.8" r="4.5"/>
<circle cx="295.6" cy="466.6" r="4.5"/>
<circle cx="304.9" cy="494.1" r="4.5"/>
<circle cx="329.6" cy="481.8" r="4.5"/>
<circle cx="332.9" cy="505.6" r="4.5"/>
<circle cx="329.4" cy="500.7" r="4.5"/>
<circle cx="315.9" cy="500.5" r="4.5"/>
<circle cx="306.4" cy="484.1" r="4.5"/>
<circle cx="314.2" cy="494.1" r="4.5"/>
<circle cx="339.9" cy="503.8" r="4.5"/>
<circle cx="309.2" cy="471.8" r="4.5"/>
<circle cx="338.1" cy="507.7" r="4.5"/>
<circle cx="286.3" cy="481.4" r="4.5"/>
<circle cx="268.6" cy="471.6" r="4.5"/>
<circle cx="344" cy="484.7" r="4.5"/>
<circle cx="341.1" cy="485.1" r="4.5"/>
<circle cx="321" cy="478" r="4.5"/>
<circle cx="351.9" cy="508.3" r="4.5"/>
<circle cx="355.9" cy="512.2" r="4.5"/>
<circle cx="345.2" cy="486.3" r="4.5"/>
<circle cx="326.7" cy="473.7" r="4.5"/>
<circle cx="360.1" cy="511.5" r="4.5"/>
<circle cx="343.9" cy="489.2" r="4.5"/>
<circle cx="354.4" cy="500.3" r="4.5"/>
<circle cx="300.4" cy="468.4" r="4.5"/>
<circle cx="348.9" cy="486" r="4.5"/>
<circle cx="340.9" cy="509" r="4.5"/>
<circle cx="334.6" cy="510.7" r="4.5"/>
<circle cx="322.7" cy="501.2" r="4.5"/>
<circle cx="308" cy="493.4" r="4.5"/>
<circle cx="312.8" cy="474.3" r="4.5"/>
<circle cx="320.6" cy="503.3" r="4.5"/>
<circle cx="316.9" cy="501" r="4.5"/>
<circle cx="326.9" cy="502.8" r="4.5"/>
<circle cx="302.5" cy="477.7" r="4.5"/>
<circle cx="359.1" cy="514.7" r="4.5"/>
<circle cx="326.4" cy="486" r="4.5"/>
<circle cx="300.5" cy="486.3" r="4.5"/>
<circle cx="277.7" cy="474.9" r="4.5"/>
<circle cx="325.8" cy="511" r="4.5"/>
<circle cx="358.9" cy="512.8" r="4.5"/>
<circle cx="328.4" cy="500" r="4.5"/>
<circle cx="337.4" cy="508.7" r="4.5"/>
<circle cx="348.6" cy="488.6" r="4.5"/>
<circle cx="329.5" cy="496.3" r="4.5"/>
<circle cx="317.9" cy="506.6" r="4.5"/>
<circle cx="350.9" cy="501.7" r="4.5"/>
<circle cx="304" cy="489.6" r="4.5"/>
<circle cx="334.4" cy="505.4" r="4.5"/>
<circle cx="326.3" cy="515.4" r="4.5"/>
<circle cx="344.1" cy="482.9" r="4.5"/>
<circle cx="306.5" cy="501.9" r="4.5"/>
<circle cx="331.4" cy="516.1" r="4.5"/>
<circle cx="294.3" cy="464" r="4.5"/>
<circle cx="309.8" cy="494.8" r="4.5"/>
<circle cx="334.3" cy="507.8" r="4.5"/>
<circle cx="336.3" cy="497.2" r="4.5"/>
<circle cx="352.5" cy="498.5" r="4.5"/>
<circle cx="370.8" cy="517.9" r="4.5"/>
<circle cx="349.6" cy="493.7" r="4.5"/>
<circle cx="373" cy="516.2" r="4.5"/>
<circle cx="340.7" cy="478.2" r="4.5"/>
<circle cx="360.2" cy="505.7" r="4.5"/>
<circle cx="361.7" cy="507.6" r="4.5"/>
<circle cx="349.2" cy="512.2" r="4.5"/>
<circle cx="342.1" cy="504.3" r="4.5"/>
<circle cx="339" cy="511.8" r="4.5"/>
<circle cx="268.3" cy="470.2" r="4.5"/>
<circle cx="326.1" cy="512.2" r="4.5"/>
<circle cx="330" cy="467.4" r="4.5"/>
<circle cx="276.7" cy="467.9" r="4.5"/>
<circle cx="346" cy="491.1" r="4.5"/>
<circle cx="317.3" cy="472.1" r="4.5"/>
<circle cx="322.5" cy="511" r="4.5"/>
<circle cx="295.9" cy="462.7" r="4.5"/>
<circle cx="325" cy="510" r="4.5"/>
<circle cx="335.1" cy="474.9" r="4.5"/>
<circle cx="357.6" cy="508.4" r="4.5"/>
<circle cx="365" cy="509.1" r="4.5"/>
<circle cx="369.9" cy="519.4" r="4.5"/>
<circle cx="302.6" cy="485.1" r="4.5"/>
<circle cx="336.4" cy="502.2" r="4.5"/>
<circle cx="321.8" cy="485.9" r="4.5"/>
<circle cx="284.2" cy="470" r="4.5"/>
<circle cx="302.1" cy="499.1" r="4.5"/>
<circle cx="365.2" cy="516.5" r="4.5"/>
<circle cx="305.2" cy="480.6" r="4.5"/>
<circle cx="328" cy="513.2" r="4.5"/>
<circle cx="327.7" cy="503.8" r="4.5"/>
<circle cx="299.8" cy="485.4" r="4.5"/>
<circle cx="344.6" cy="480.9" r="4.5"/>
<circle cx="322" cy="468.2" r="4.5"/>
<circle cx="347.5" cy="519.3" r="4.5"/>
<circle cx="305.3" cy="465.4" r="4.5"/>
<circle cx="333.5" cy="475.1" r="4.5"/>
<circle cx="306.6" cy="476.2" r="4.5"/>
<circle cx="316.6" cy="506" r="4.5"/>
<circle cx="309.5" cy="468.5" r="4.5"/>
<circle cx="369.4" cy="519.2" r="4.5"/>
<circle cx="344.7" cy="484.6" r="4.5"/>
<circle cx="361.7" cy="516" r="4.5"/>
<circle cx="330.2" cy="508.4" r="4.5"/>
<circle cx="307" cy="472.6" r="4.5"/>
<circle cx="347.8" cy="492.4" r="4.5"/>
<circle cx="348.5" cy="518.4" r="4.5"/>
<circle cx="335.8" cy="496.1" r="4.5"/>
<circle cx="343.8" cy="515.4" r="4.5"/>
<circle cx="315.3" cy="479.8" r="4.5"/>
<circle cx="323.2" cy="513.5" r="4.5"/>
<circle cx="338.6" cy="500.9" r="4.5"/>
<circle cx="312.7" cy="493.1" r="4.5"/>
<circle cx="304.2" cy="480.6" r="4.5"/>
<circle cx="360.1" cy="502.1" r="4.5"/>
<circle cx="304.2" cy="466.8" r="4.5"/>
<circle cx="322.1" cy="488.4" r="4.5"/>
<circle cx="317" cy="487" r="4.5"/>
<circle cx="321.6" cy="503.8" r="4.5"/>
<circle cx="344.5" cy="512.9" r="4.5"/>
<circle cx="330" cy="503.6" r="4.5"/>
<circle cx="327.7" cy="497.3" r="4.5"/>
<circle cx="320.4" cy="502.2" r="4.5"/>
<circle cx="312.1" cy="485.2" r="4.5"/>
<circle cx="332.2" cy="492.9" r="4.5"/>
<circle cx="346.2" cy="486.5" r="4.5"/>
<circle cx="346.4" cy="483.1" r="4.5"/>
<circle cx="326" cy="507.8" r="4.5"/>
<circle cx="356.8" cy="500.9" r="4.5"/>
<circle cx="325.5" cy="498.7" r="4.5"/>
<circle cx="312.6" cy="495" r="4.5"/>
<circle cx="313.9" cy="485.1" r="4.5"/>
<circle cx="291.7" cy="487.7" r="4.5"/>
<circle cx="372.4" cy="518.4" r="4.5"/>
<circle cx="329.7" cy="487.9" r="4.5"/>
<circle cx="320" cy="506.6" r="4.5"/>
<circle cx="350.7" cy="494.9" r="4.5"/>
<circle cx="309.3" cy="484.7" r="4.5"/>
<circle cx="336.8" cy="500.5" r="4.5"/>
<circle cx="335.7" cy="519.2" r="4.5"/>
<circle cx="310.3" cy="502.5" r="4.5"/>
<circle cx="330.7" cy="469.5" r="4.5"/>
<circle cx="297.6" cy="469.4" r="4.5"/>
<circle cx="347.9" cy="519.7" r="4.5"/>
<circle cx="296.9" cy="472.1" r="4.5"/>
<circle cx="266.7" cy="467.9" r="4.5"/>
<circle cx="318.9" cy="506.6" r="4.5"/>
<circle cx="349.6" cy="489.7" r="4.5"/>
<circle cx="292.9" cy="486.7" r="4.5"/>
<circle cx="317" cy="507.7" r="4.5"/>
<circle cx="370.3" cy="517.7" r="4.5"/>
<circle cx="356.5" cy="505" r="4.5"/>
<circle cx="316.8" cy="488.8" r="4.5"/>
<circle cx="323.1" cy="481.8" r="4.5"/>
<circle cx="352.9" cy="504.7" r="4.5"/>
<circle cx="355.1" cy="507.9" r="4.5"/>
<circle cx="351.1" cy="512.7" r="4.5"/>
<circle cx="324.1" cy="491.1" r="4.5"/>
<circle cx="366.8" cy="511.1" r="4.5"/>
<circle cx="338.3" cy="513.8" r="4.5"/>
<circle cx="340.8" cy="499.9" r="4.5"/>
<circle cx="333.5" cy="476.8" r="4.5"/>
<circle cx="338" cy="498.3" r="4.5"/>
<circle cx="372.9" cy="519.3" r="4.5"/>
<circle cx="302.8" cy="481.6" r="4.5"/>
<circle cx="325.5" cy="500.7" r="4.5"/>
<circle cx="329" cy="471.5" r="4.5"/>
<circle cx="335.2" cy="513.6" r="4.5"/>
<circle cx="362.7" cy="511.8" r="4.5"/>
<circle cx="359.7" cy="509.2" r="4.5"/>
<circle cx="287.1" cy="486.4" r="4.5"/>
<circle cx="325" cy="493.9" r="4.5"/>
<circle cx="348.6" cy="506.9" r="4.5"/>
<circle cx="350.3" cy="517.8" r="4.5"/>
<circle cx="300.2" cy="495.7" r="4.5"/>
<circle cx="265.2" cy="464.2" r="4.5"/>
<circle cx="331.2" cy="516.6" r="4.5"/>
<circle cx="328.3" cy="486.4" r="4.5"/>
<circle cx="312.3" cy="506.2" r="4.5"/>
<circle cx="309.8" cy="463.3" r="4.5"/>
<circle cx="335.3" cy="501.8" r="4.5"/>
<circle cx="363.4" cy="513.8" r="4.5"/>
<circle cx="320.9" cy="505.2" r="4.5"/>
<circle cx="340.8" cy="489.1" r="4.5"/>
<circle cx="324.6" cy="495.8" r="4.5"/>
<circle cx="331.1" cy="513.7" r="4.5"/>
<circle cx="333.6" cy="474.7" r="4.5"/>
<circle cx="350.2" cy="496.1" r="4.5"/>
<circle cx="357.2" cy="512.5" r="4.5"/>
<circle cx="310.3" cy="503.6" r="4.5"/>
<circle cx="335.6" cy="507.2" r="4.5"/>
<circle cx="293.2" cy="475.8" r="4.5"/>
<circle cx="304.6" cy="494.6" r="4.5"/>
<circle cx="340.2" cy="501.8" r="4.5"/>
<circle cx="276.8" cy="476.6" r="4.5"/>
<circle cx="361.9" cy="508.3" r="4.5"/>
<circle cx="355.5" cy="498.7" r="4.5"/>
<circle cx="349.8" cy="492" r="4.5"/>
<circle cx="327.8" cy="475.3" r="4.5"/>
<circle cx="345.7" cy="504.6" r="4.5"/>
<circle cx="306.9" cy="489.7" r="4.5"/>
<circle cx="361.6" cy="505.3" r="4.5"/>
<circle cx="332.8" cy="510.1" r="4.5"/>
<circle cx="343.5" cy="501" r="4.5"/>
<circle cx="314.1" cy="501.2" r="4.5"/>
<circle cx="364.8" cy="507" r="4.5"/>
<circle cx="319.4" cy="481.6" r="4.5"/>
<circle cx="345.5" cy="499.4" r="4.5"/>
<circle cx="299.3" cy="474.1" r="4.5"/>
<circle cx="347.6" cy="487.1" r="4.5"/>
<circle cx="288.1" cy="464.2" r="4.5"/>
<circle cx="343.7" cy="510" r="4.5"/>
<circle cx="334.3" cy="514.5" r="4.5"/>
<circle cx="369.1" cy="517" r="4.5"/>
<circle cx="293.9" cy="487.1" r="4.5"/>
<circle cx="307.8" cy="484.7" r="4.5"/>
<circle cx="319.8" cy="508.4" r="4.5"/>
<circle cx="308" cy="491.8" r="4.5"/>
<circle cx="363.5" cy="515.6" r="4.5"/>
<circle cx="322.7" cy="488.2" r="4.5"/>
<circle cx="361.8" cy="512" r="4.5"/>
<circle cx="324.7" cy="500.8" r="4.5"/>
<circle cx="330.5" cy="470.2" r="4.5"/>
<circle cx="323.4" cy="473.4" r="4.5"/>
<circle cx="303.9" cy="479.2" r="4.5"/>
<circle cx="323.5" cy="500.7" r="4.5"/>
<circle cx="328.8" cy="482.4" r="4.5"/>
<circle cx="327.8" cy="473.3" r="4.5"/>
<circle cx="353.8" cy="495.6" r="4.5"/>
<circle cx="296.1" cy="477.2" r="4.5"/>
<circle cx="290.9" cy="490.6" r="4.5"/>
<circle cx="310.6" cy="459.5" r="4.5"/>
<circle cx="320.4" cy="494.2" r="4.5"/>
<circle cx="314.4" cy="501" r="4.5"/>
<circle cx="333.2" cy="489.3" r="4.5"/>
<circle cx="303.5" cy="486.9" r="4.5"/>
<circle cx="345.6" cy="503.7" r="4.5"/>
<circle cx="327.8" cy="502.2" r="4.5"/>
<circle cx="308.6" cy="482.6" r="4.5"/>
<circle cx="310.9" cy="504.5" r="4.5"/>
<circle cx="344.8" cy="480.6" r="4.5"/>
<circle cx="271" cy="470.8" r="4.5"/>
<circle cx="350.3" cy="515.1" r="4.5"/>
<circle cx="363.2" cy="509.8" r="4.5"/>
<circle cx="294.5" cy="483.1" r="4.5"/>
<circle cx="289.9" cy="478.4" r="4.5"/>
<circle cx="294.8" cy="484.5" r="4.5"/>
<circle cx="314.4" cy="491.8" r="4.5"/>
<circle cx="334.1" cy="499.9" r="4.5"/>
<circle cx="316.6" cy="509" r="4.5"/>
<circle cx="305.6" cy="466.1" r="4.5"/>
<circle cx="233.5" cy="425.4" r="4.5"/>
<circle cx="315.5" cy="456.8" r="4.5"/>
<circle cx="296.1" cy="453.2" r="4.5"/>
<circle cx="306.1" cy="458.3" r="4.5"/>
<circle cx="300.4" cy="461.4" r="4.5"/>
<circle cx="250.4" cy="453.2" r="4.5"/>
<circle cx="322.9" cy="458" r="4.5"/>
<circle cx="300.8" cy="464.4" r="4.5"/>
<circle cx="274.2" cy="462.6" r="4.5"/>
<circle cx="240.6" cy="445.4" r="4.5"/>
<circle cx="246.5" cy="431" r="4.5"/>
<circle cx="276.7" cy="449" r="4.5"/>
<circle cx="261.8" cy="436.5" r="4.5"/>
<circle cx="230.5" cy="422.6" r="4.5"/>
<circle cx="252.6" cy="444.7" r="4.5"/>
<circle cx="275.3" cy="430.5" r="4.5"/>
<circle cx="283.2" cy="453.2" r="4.5"/>
<circle cx="280.2" cy="457.9" r="4.5"/>
<circle cx="238.7" cy="439.7" r="4.5"/>
<circle cx="293" cy="433.4" r="4.5"/>
<circle cx="256" cy="454.2" r="4.5"/>
<circle cx="317.8" cy="456.8" r="4.5"/>
<circle cx="276.3" cy="455.2" r="4.5"/>
<circle cx="280.6" cy="463.8" r="4.5"/>
<circle cx="281.7" cy="414.1" r="4.5"/>
<circle cx="252.1" cy="446.3" r="4.5"/>
<circle cx="305" cy="453.6" r="4.5"/>
<circle cx="279.9" cy="439.3" r="4.5"/>
<circle cx="265.3" cy="464.2" r="4.5"/>
<circle cx="314.1" cy="440.4" r="4.5"/>
<circle cx="299.4" cy="434.9" r="4.5"/>
<circle cx="293.5" cy="459" r="4.5"/>
<circle cx="269.3" cy="466" r="4.5"/>
<circle cx="264.2" cy="419.1" r="4.5"/>
<circle cx="277" cy="438.4" r="4.5"/>
<circle cx="295.6" cy="465.8" r="4.5"/>
<circle cx="311.3" cy="445.5" r="4.5"/>
<circle cx="282.4" cy="449.7" r="4.5"/>
<circle cx="278.1" cy="463.6" r="4.5"/>
<circle cx="229.3" cy="431.1" r="4.5"/>
<circle cx="257.9" cy="465" r="4.5"/>
<circle cx="280.8" cy="428.1" r="4.5"/>
<circle cx="262" cy="461.6" r="4.5"/>
<circle cx="248.7" cy="454.8" r="4.5"/>
<circle cx="250.3" cy="458" r="4.5"/>
<circle cx="310" cy="468.1" r="4.5"/>
<circle cx="308.3" cy="462.4" r="4.5"/>
<circle cx="320.6" cy="461.6" r="4.5"/>
<circle cx="306.9" cy="440.6" r="4.5"/>
<circle cx="298.3" cy="460.1" r="4.5"/>
<circle cx="247.8" cy="442.4" r="4.5"/>
<circle cx="271.2" cy="462.1" r="4.5"/>
<circle cx="257.2" cy="428.7" r="4.5"/>
<circle cx="314" cy="453.6" r="4.5"/>
<circle cx="260.1" cy="440" r="4.5"/>
<circle cx="308.6" cy="429.3" r="4.5"/>
<circle cx="308.7" cy="452.5" r="4.5"/>
<circle cx="255.2" cy="440.7" r="4.5"/>
<circle cx="239.9" cy="440.1" r="4.5"/>
<circle cx="315.9" cy="455.9" r="4.5"/>
<circle cx="263.8" cy="431.5" r="4.5"/>
<circle cx="307.2" cy="463.2" r="4.5"/>
<circle cx="287.4" cy="462.5" r="4.5"/>
<circle cx="290.4" cy="421.8" r="4.5"/>
<circle cx="223.1" cy="425.8" r="4.5"/>
<circle cx="319.6" cy="463.7" r="4.5"/>
<circle cx="243.9" cy="441.8" r="4.5"/>
<circle cx="277.7" cy="423.5" r="4.5"/>
<circle cx="266.6" cy="465.6" r="4.5"/>
<circle cx="283.3" cy="441.4" r="4.5"/>
<circle cx="247.9" cy="422.2" r="4.5"/>
<circle cx="259.9" cy="442.9" r="4.5"/>
<circle cx="316.6" cy="457.6" r="4.5"/>
<circle cx="281.3" cy="448" r="4.5"/>
<circle cx="307.3" cy="458.6" r="4.5"/>
<circle cx="261.5" cy="466.1" r="4.5"/>
<circle cx="313.1" cy="455.6" r="4.5"/>
<circle cx="254.8" cy="435.7" r="4.5"/>
<circle cx="251.5" cy="455.5" r="4.5"/>
<circle cx="323.7" cy="460.1" r="4.5"/>
<circle cx="284.3" cy="436.9" r="4.5"/>
<circle cx="307.3" cy="451.9" r="4.5"/>
<circle cx="275.8" cy="443.4" r="4.5"/>
<circle cx="266.2" cy="460.2" r="4.5"/>
<circle cx="291.9" cy="451.4" r="4.5"/>
<circle cx="262.5" cy="452.9" r="4.5"/>
<circle cx="284.8" cy="456.5" r="4.5"/>
<circle cx="318.2" cy="456.3" r="4.5"/>
<circle cx="260.4" cy="424.1" r="4.5"/>
<circle cx="294.5" cy="450.8" r="4.5"/>
<circle cx="239.1" cy="443.1" r="4.5"/>
<circle cx="266.4" cy="443.8" r="4.5"/>
<circle cx="281" cy="452.4" r="4.5"/>
<circle cx="242.7" cy="442.8" r="4.5"/>
<circle cx="270.4" cy="450.7" r="4.5"/>
<circle cx="278.8" cy="440.5" r="4.5"/>
<circle cx="291.4" cy="463.4" r="4.5"/>
<circle cx="259.8" cy="448.9" r="4.5"/>
<circle cx="255.5" cy="411.8" r="4.5"/>
<circle cx="287.7" cy="414.3" r="4.5"/>
<circle cx="263.7" cy="455.9" r="4.5"/>
<circle cx="277.6" cy="419.2" r="4.5"/>
<circle cx="264.1" cy="435.5" r="4.5"/>
<circle cx="292.3" cy="458.6" r="4.5"/>
<circle cx="273.2" cy="437.6" r="4.5"/>
<circle cx="299.7" cy="426.1" r="4.5"/>
<circle cx="257" cy="418.9" r="4.5"/>
<circle cx="281.9" cy="446.3" r="4.5"/>
<circle cx="264.6" cy="464" r="4.5"/>
<circle cx="292.4" cy="452.5" r="4.5"/>
<circle cx="254.9" cy="452.1" r="4.5"/>
<circle cx="250.9" cy="444" r="4.5"/>
<circle cx="274.4" cy="447.9" r="4.5"/>
<circle cx="257.4" cy="416.1" r="4.5"/>
<circle cx="290.6" cy="434.4" r="4.5"/>
<circle cx="253.7" cy="435.4" r="4.5"/>
<circle cx="277.9" cy="448.4" r="4.5"/>
<circle cx="254.4" cy="434.7" r="4.5"/>
<circle cx="287.8" cy="454.8" r="4.5"/>
<circle cx="296.2" cy="443.8" r="4.5"/>
<circle cx="292.5" cy="462" r="4.5"/>
<circle cx="287.4" cy="448.9" r="4.5"/>
<circle cx="274.9" cy="467.9" r="4.5"/>
<circle cx="263" cy="412.9" r="4.5"/>
<circle cx="264.5" cy="436" r="4.5"/>
<circle cx="299.3" cy="467.5" r="4.5"/>
<circle cx="265" cy="465.4" r="4.5"/>
<circle cx="276.9" cy="428.7" r="4.5"/>
<circle cx="302.5" cy="458.9" r="4.5"/>
<circle cx="266.4" cy="453.8" r="4.5"/>
<circle cx="270.6" cy="458.3" r="4.5"/>
<circle cx="272.5" cy="456.3" r="4.5"/>
<circle cx="250.4" cy="442.7" r="4.5"/>
<circle cx="275.2" cy="460.6" r="4.5"/>
<circle cx="286" cy="450.6" r="4.5"/>
<circle cx="311.5" cy="463.3" r="4.5"/>
<circle cx="289.1" cy="447.1" r="4.5"/>
<circle cx="242.8" cy="443.4" r="4.5"/>
<circle cx="231.1" cy="424.6" r="4.5"/>
<circle cx="282.3" cy="460.7" r="4.5"/>
<circle cx="306.2" cy="432.8" r="4.5"/>
<circle cx="231.1" cy="418.6" r="4.5"/>
<circle cx="313.4" cy="452.2" r="4.5"/>
<circle cx="272.9" cy="418.1" r="4.5"/>
<circle cx="265.5" cy="428.5" r="4.5"/>
<circle cx="303.2" cy="451.8" r="4.5"/>
<circle cx="296.4" cy="432.9" r="4.5"/>
<circle cx="294" cy="439" r="4.5"/>
<circle cx="293.5" cy="443.9" r="4.5"/>
<circle cx="289.6" cy="439.5" r="4.5"/>
<circle cx="250.7" cy="458.1" r="4.5"/>
<circle cx="257.5" cy="460.2" r="4.5"/>
<circle cx="261.1" cy="459.4" r="4.5"/>
<circle cx="283.1" cy="443.2" r="4.5"/>
<circle cx="286" cy="454" r="4.5"/>
<circle cx="306.4" cy="458.3" r="4.5"/>
<circle cx="256" cy="428.2" r="4.5"/>
<circle cx="252" cy="436.3" r="4.5"/>
<circle cx="244.6" cy="430.4" r="4.5"/>
<circle cx="256.6" cy="447.7" r="4.5"/>
<circle cx="310.7" cy="449.2" r="4.5"/>
<circle cx="255.4" cy="458.1" r="4.5"/>
<circle cx="317.6" cy="453.5" r="4.5"/>
<circle cx="263.7" cy="453.6" r="4.5"/>
<circle cx="273.3" cy="417.4" r="4.5"/>
<circle cx="310.8" cy="446.2" r="4.5"/>
<circle cx="307.3" cy="441.4" r="4.5"/>
<circle cx="310.8" cy="442.7" r="4.5"/>
<circle cx="322.1" cy="457" r="4.5"/>
<circle cx="249.1" cy="457.1" r="4.5"/>
<circle cx="308.2" cy="462.5" r="4.5"/>
<circle cx="281.4" cy="414.3" r="4.5"/>
<circle cx="287.7" cy="447.5" r="4.5"/>
<circle cx="305.8" cy="467" r="4.5"/>
<circle cx="315.2" cy="458.1" r="4.5"/>
<circle cx="278.3" cy="448.4" r="4.5"/>
<circle cx="290.2" cy="442.2" r="4.5"/>
<circle cx="272.8" cy="467.3" r="4.5"/>
<circle cx="230.2" cy="433.4" r="4.5"/>
<circle cx="285.4" cy="457.5" r="4.5"/>
<circle cx="267.8" cy="444.4" r="4.5"/>
<circle cx="271.5" cy="455.4" r="4.5"/>
<circle cx="313.6" cy="466" r="4.5"/>
<circle cx="315.4" cy="442" r="4.5"/>
<circle cx="283.3" cy="449.6" r="4.5"/>
<circle cx="309.4" cy="452.3" r="4.5"/>
<circle cx="235.5" cy="434.4" r="4.5"/>
<circle cx="313.7" cy="449.4" r="4.5"/>
<circle cx="272.5" cy="424" r="4.5"/>
<circle cx="285.9" cy="465.8" r="4.5"/>
<circle cx="246.4" cy="443.1" r="4.5"/>
<circle cx="279.6" cy="463.4" r="4.5"/>
<circle cx="298.2" cy="463.5" r="4.5"/>
<circle cx="310.8" cy="459" r="4.5"/>
<circle cx="253" cy="415.2" r="4.5"/>
<circle cx="276" cy="460.3" r="4.5"/>
<circle cx="251.5" cy="454.1" r="4.5"/>
<circle cx="266.7" cy="465.9" r="4.5"/>
<circle cx="311.1" cy="455.2" r="4.5"/>
<circle cx="274.6" cy="440.3" r="4.5"/>
<circle cx="274.9" cy="443.5" r="4.5"/>
<circle cx="271.3" cy="413.4" r="4.5"/>
<circle cx="258.6" cy="435.4" r="4.5"/>
<circle cx="280.3" cy="459.3" r="4.5"/>
<circle cx="256.8" cy="439.3" r="4.5"/>
<circle cx="256.7" cy="449" r="4.5"/>
<circle cx="270.1" cy="443.9" r="4.5"/>
<circle cx="262.7" cy="429.4" r="4.5"/>
<circle cx="314.3" cy="466.8" r="4.5"/>
<circle cx="272.1" cy="447.7" r="4.5"/>
<circle cx="223.2" cy="426.5" r="4.5"/>
<circle cx="276.7" cy="454.9" r="4.5"/>
<circle cx="289.7" cy="437.5" r="4.5"/>
<circle cx="265" cy="466.4" r="4.5"/>
<circle cx="313.1" cy="449.1" r="4.5"/>
<circle cx="263.1" cy="450" r="4.5"/>
<circle cx="283.8" cy="446.3" r="4.5"/>
<circle cx="243.8" cy="440.2" r="4.5"/>
<circle cx="221.9" cy="415.8" r="4.5"/>
<circle cx="255.9" cy="399.2" r="4.5"/>
<circle cx="213.4" cy="403.2" r="4.5"/>
<circle cx="248.8" cy="388.5" r="4.5"/>
<circle cx="277.2" cy="392.2" r="4.5"/>
<circle cx="231.1" cy="395.3" r="4.5"/>
<circle cx="260.4" cy="403.9" r="4.5"/>
<circle cx="278.9" cy="399.2" r="4.5"/>
<circle cx="247.8" cy="399.5" r="4.5"/>
<circle cx="233.8" cy="410.9" r="4.5"/>
<circle cx="263.5" cy="392.3" r="4.5"/>
<circle cx="230.1" cy="394.4" r="4.5"/>
<circle cx="282" cy="398.8" r="4.5"/>
<circle cx="217" cy="404.8" r="4.5"/>
<circle cx="235.6" cy="393.1" r="4.5"/>
<circle cx="229" cy="391.2" r="4.5"/>
<circle cx="252.7" cy="404" r="4.5"/>
<circle cx="216.4" cy="415.3" r="4.5"/>
<circle cx="246.3" cy="392.2" r="4.5"/>
<circle cx="260" cy="387.9" r="4.5"/>
<circle cx="238" cy="403.9" r="4.5"/>
<circle cx="244.1" cy="408.6" r="4.5"/>
<circle cx="271.9" cy="394.9" r="4.5"/>
<circle cx="231.9" cy="394.3" r="4.5"/>
<circle cx="494.9" cy="475.5" r="4.5"/>
<circle cx="467.2" cy="479" r="4.5"/>
<circle cx="462.1" cy="519.1" r="4.5"/>
<circle cx="462.3" cy="496.1" r="4.5"/>
<circle cx="457.5" cy="503.8" r="4.5"/>
<circle cx="467.6" cy="476.3" r="4.5"/>
<circle cx="493.4" cy="497.4" r="4.5"/>
<circle cx="493.2" cy="496.9" r="4.5"/>
<circle cx="472.5" cy="513.1" r="4.5"/>
<circle cx="464.2" cy="513.2" r="4.5"/>
<circle cx="496" cy="503.1" r="4.5"/>
<circle cx="474.3" cy="509.9" r="4.5"/>
<circle cx="460.7" cy="501" r="4.5"/>
<circle cx="492" cy="490.3" r="4.5"/>
<circle cx="497.7" cy="470.3" r="4.5"/>
<circle cx="467.2" cy="513.7" r="4.5"/>
<circle cx="468.6" cy="501.6" r="4.5"/>
<circle cx="478" cy="498.2" r="4.5"/>
<circle cx="483.2" cy="495" r="4.5"/>
<circle cx="504.3" cy="502" r="4.5"/>
<circle cx="507.4" cy="480.2" r="4.5"/>
<circle cx="468" cy="477.4" r="4.5"/>
<circle cx="495.9" cy="477.1" r="4.5"/>
<circle cx="464.7" cy="513.4" r="4.5"/>
<circle cx="455.5" cy="493.1" r="4.5"/>
<circle cx="504" cy="491.3" r="4.5"/>
<circle cx="480" cy="502.1" r="4.5"/>
<circle cx="502.4" cy="496.4" r="4.5"/>
<circle cx="465.1" cy="519.4" r="4.5"/>
<circle cx="506.6" cy="482.5" r="4.5"/>
<circle cx="469.7" cy="515.9" r="4.5"/>
<circle cx="493.6" cy="497.2" r="4.5"/>
<circle cx="507.8" cy="498.7" r="4.5"/>
<circle cx="480.8" cy="509.5" r="4.5"/>
<circle cx="484.4" cy="499.3" r="4.5"/>
<circle cx="486.6" cy="514" r="4.5"/>
<circle cx="446.7" cy="506" r="4.5"/>
<circle cx="480.8" cy="488.2" r="4.5"/>
<circle cx="486.6" cy="471" r="4.5"/>
<circle cx="497" cy="484.6" r="4.5"/>
<circle cx="477.7" cy="515.3" r="4.5"/>
<circle cx="487.8" cy="497.6" r="4.5"/>
<circle cx="451" cy="503.7" r="4.5"/>
<circle cx="493.1" cy="472" r="4.5"/>
<circle cx="475.5" cy="514.6" r="4.5"/>
<circle cx="477.1" cy="493.8" r="4.5"/>
<circle cx="483.4" cy="513.2" r="4.5"/>
<circle cx="443.1" cy="513.7" r="4.5"/>
<circle cx="470.6" cy="510.4" r="4.5"/>
<circle cx="505.1" cy="498.9" r="4.5"/>
<circle cx="447.4" cy="512.5" r="4.5"/>
<circle cx="507.7" cy="483.3" r="4.5"/>
<circle cx="500.4" cy="488" r="4.5"/>
<circle cx="497" cy="482.8" r="4.5"/>
<circle cx="471.4" cy="517.7" r="4.5"/>
<circle cx="465" cy="514.6" r="4.5"/>
<circle cx="472.1" cy="513" r="4.5"/>
<circle cx="485.1" cy="503.9" r="4.5"/>
<circle cx="444.5" cy="519.9" r="4.5"/>
<circle cx="495.2" cy="487.1" r="4.5"/>
<circle cx="491.4" cy="482.3" r="4.5"/>
<circle cx="510.4" cy="497.9" r="4.5"/>
<circle cx="442.4" cy="511.1" r="4.5"/>
<circle cx="454.1" cy="515.3" r="4.5"/>
<circle cx="510.7" cy="497.2" r="4.5"/>
<circle cx="474.6" cy="485.5" r="4.5"/>
<circle cx="485.5" cy="490.5" r="4.5"/>
<circle cx="449.5" cy="505" r="4.5"/>
<circle cx="449.6" cy="512.3" r="4.5"/>
<circle cx="504.9" cy="481" r="4.5"/>
<circle cx="469.7" cy="502" r="4.5"/>
<circle cx="470.8" cy="470.8" r="4.5"/>
<circle cx="469.7" cy="517.4" r="4.5"/>
<circle cx="522.1" cy="485.2" r="4.5"/>
<circle cx="451" cy="514.8" r="4.5"/>
<circle cx="480.8" cy="499.6" r="4.5"/>
<circle cx="481.8" cy="509.7" r="4.5"/>
<circle cx="511.1" cy="475.6" r="4.5"/>
<circle cx="459.3" cy="507.6" r="4.5"/>
<circle cx="513.4" cy="491.8" r="4.5"/>
<circle cx="498" cy="488.5" r="4.5"/>
<circle cx="486.2" cy="469.1" r="4.5"/>
<circle cx="467.3" cy="508.8" r="4.5"/>
<circle cx="466.8" cy="485.9" r="4.5"/>
<circle cx="461.1" cy="517.6" r="4.5"/>
<circle cx="502.5" cy="496.9" r="4.5"/>
<circle cx="486.4" cy="511" r="4.5"/>
<circle cx="496.9" cy="502.2" r="4.5"/>
<circle cx="484.6" cy="480.9" r="4.5"/>
<circle cx="491.8" cy="470.7" r="4.5"/>
<circle cx="493.8" cy="484.6" r="4.5"/>
<circle cx="508" cy="500.6" r="4.5"/>
<circle cx="451.6" cy="497.1" r="4.5"/>
<circle cx="479.8" cy="490.4" r="4.5"/>
<circle cx="464.4" cy="487.6" r="4.5"/>
<circle cx="487.1" cy="478.8" r="4.5"/>
<circle cx="513.3" cy="481.6" r="4.5"/>
<circle cx="467.1" cy="497.4" r="4.5"/>
<circle cx="489.4" cy="506.8" r="4.5"/>
<circle cx="478.2" cy="512.1" r="4.5"/>
<circle cx="472.8" cy="477" r="4.5"/>
<circle cx="489.7" cy="473.6" r="4.5"/>
<circle cx="452.6" cy="505.2" r="4.5"/>
<circle cx="461.4" cy="482.2" r="4.5"/>
<circle cx="479.7" cy="484.1" r="4.5"/>
<circle cx="454.2" cy="510.6" r="4.5"/>
<circle cx="495.9" cy="506" r="4.5"/>
<circle cx="504.9" cy="480.8" r="4.5"/>
<circle cx="447.1" cy="512" r="4.5"/>
<circle cx="521.6" cy="479.8" r="4.5"/>
<circle cx="480.7" cy="515.4" r="4.5"/>
<circle cx="502.3" cy="493.6" r="4.5"/>
<circle cx="486" cy="484.8" r="4.5"/>
<circle cx="469.3" cy="488" r="4.5"/>
<circle cx="496.3" cy="507.8" r="4.5"/>
<circle cx="492.9" cy="497.2" r="4.5"/>
<circle cx="453.1" cy="506.6" r="4.5"/>
<circle cx="487.4" cy="484.2" r="4.5"/>
<circle cx="480.3" cy="505" r="4.5"/>
<circle cx="522.5" cy="479.4" r="4.5"/>
<circle cx="465.1" cy="491.4" r="4.5"/>
<circle cx="453.1" cy="498.8" r="4.5"/>
<circle cx="449.2" cy="513" r="4.5"/>
<circle cx="452.5" cy="503" r="4.5"/>
<circle cx="487.7" cy="496.3" r="4.5"/>
<circle cx="479.8" cy="497.4" r="4.5"/>
<circle cx="499" cy="499.7" r="4.5"/>
<circle cx="495.4" cy="502.8" r="4.5"/>
<circle cx="469.9" cy="488" r="4.5"/>
<circle cx="474.1" cy="485.1" r="4.5"/>
<circle cx="496.8" cy="496" r="4.5"/>
<circle cx="515" cy="488.7" r="4.5"/>
<circle cx="485" cy="496.5" r="4.5"/>
<circle cx="461.3" cy="483.9" r="4.5"/>
<circle cx="484.3" cy="510.3" r="4.5"/>
<circle cx="460.8" cy="502.7" r="4.5"/>
<circle cx="467.4" cy="509.3" r="4.5"/>
<circle cx="448.4" cy="512.2" r="4.5"/>
<circle cx="463.6" cy="491.6" r="4.5"/>
<circle cx="471.1" cy="504" r="4.5"/>
<circle cx="488.1" cy="492.3" r="4.5"/>
<circle cx="492" cy="472" r="4.5"/>
<circle cx="445.2" cy="513.4" r="4.5"/>
<circle cx="461.2" cy="486" r="4.5"/>
<circle cx="476.4" cy="489.8" r="4.5"/>
<circle cx="465.3" cy="484.6" r="4.5"/>
<circle cx="472.9" cy="482.8" r="4.5"/>
<circle cx="472.1" cy="517.3" r="4.5"/>
<circle cx="516.4" cy="475.9" r="4.5"/>
<circle cx="486.6" cy="504.5" r="4.5"/>
<circle cx="473.8" cy="468.6" r="4.5"/>
<circle cx="492.1" cy="490.8" r="4.5"/>
<circle cx="488.9" cy="511.7" r="4.5"/>
<circle cx="488.4" cy="491.9" r="4.5"/>
<circle cx="445.5" cy="516" r="4.5"/>
<circle cx="503" cy="491.4" r="4.5"/>
<circle cx="507.9" cy="490.5" r="4.5"/>
<circle cx="507" cy="500.9" r="4.5"/>
<circle cx="451.9" cy="519.4" r="4.5"/>
<circle cx="468.8" cy="501.4" r="4.5"/>
<circle cx="456.9" cy="507.5" r="4.5"/>
<circle cx="452.7" cy="514.5" r="4.5"/>
<circle cx="485.9" cy="490.3" r="4.5"/>
<circle cx="482.8" cy="511.9" r="4.5"/>
<circle cx="486.3" cy="471.5" r="4.5"/>
<circle cx="466.5" cy="498.8" r="4.5"/>
<circle cx="462.4" cy="500.1" r="4.5"/>
<circle cx="489.5" cy="511.6" r="4.5"/>
<circle cx="514.2" cy="491.8" r="4.5"/>
<circle cx="464.1" cy="505.9" r="4.5"/>
<circle cx="466.4" cy="486.4" r="4.5"/>
<circle cx="510.7" cy="474.8" r="4.5"/>
<circle cx="466" cy="516.7" r="4.5"/>
<circle cx="480.7" cy="492" r="4.5"/>
<circle cx="451.7" cy="508.4" r="4.5"/>
<circle cx="469.4" cy="489.9" r="4.5"/>
<circle cx="474.5" cy="471.9" r="4.5"/>
<circle cx="496.9" cy="493.8" r="4.5"/>
<circle cx="448.1" cy="517.7" r="4.5"/>
<circle cx="473.7" cy="492.7" r="4.5"/>
<circle cx="498.7" cy="488.5" r="4.5"/>
<circle cx="507.9" cy="489.7" r="4.5"/>
<circle cx="485.4" cy="515.6" r="4.5"/>
<circle cx="488.6" cy="505.5" r="4.5"/>
<circle cx="453.7" cy="504.2" r="4.5"/>
<circle cx="510.9" cy="496.1" r="4.5"/>
<circle cx="469.2" cy="514.4" r="4.5"/>
<circle cx="470.4" cy="502.3" r="4.5"/>
<circle cx="475.1" cy="517.6" r="4.5"/>
<circle cx="442.9" cy="516.8" r="4.5"/>
<circle cx="500" cy="498.5" r="4.5"/>
<circle cx="492.6" cy="498.4" r="4.5"/>
<circle cx="496" cy="491.5" r="4.5"/>
<circle cx="491.2" cy="497.5" r="4.5"/>
<circle cx="481.6" cy="490.4" r="4.5"/>
<circle cx="483.6" cy="511.4" r="4.5"/>
<circle cx="465.4" cy="506.6" r="4.5"/>
<circle cx="463" cy="491.2" r="4.5"/>
<circle cx="461.4" cy="515.8" r="4.5"/>
<circle cx="496.9" cy="488.2" r="4.5"/>
<circle cx="484.3" cy="495.9" r="4.5"/>
<circle cx="464.5" cy="509.1" r="4.5"/>
<circle cx="476" cy="469.3" r="4.5"/>
<circle cx="460.4" cy="500" r="4.5"/>
<circle cx="478.9" cy="518.3" r="4.5"/>
<circle cx="488.6" cy="509.3" r="4.5"/>
<circle cx="450.8" cy="515.8" r="4.5"/>
<circle cx="498.7" cy="486" r="4.5"/>
<circle cx="489.5" cy="469.3" r="4.5"/>
<circle cx="441" cy="518.7" r="4.5"/>
<circle cx="484.1" cy="484.5" r="4.5"/>
<circle cx="478.6" cy="484.4" r="4.5"/>
<circle cx="514.3" cy="495" r="4.5"/>
<circle cx="462.2" cy="494.5" r="4.5"/>
<circle cx="474.9" cy="513" r="4.5"/>
<circle cx="479.9" cy="498.9" r="4.5"/>
<circle cx="462.2" cy="519.7" r="4.5"/>
<circle cx="477.7" cy="490.1" r="4.5"/>
<circle cx="484.6" cy="515.3" r="4.5"/>
<circle cx="481.6" cy="489.3" r="4.5"/>
<circle cx="507.3" cy="472.2" r="4.5"/>
<circle cx="459.4" cy="512.2" r="4.5"/>
<circle cx="480" cy="514.1" r="4.5"/>
<circle cx="504.8" cy="492.6" r="4.5"/>
<circle cx="490" cy="493.4" r="4.5"/>
<circle cx="497.4" cy="467" r="4.5"/>
<circle cx="451.5" cy="511.7" r="4.5"/>
<circle cx="457.8" cy="511.1" r="4.5"/>
<circle cx="506.5" cy="485.3" r="4.5"/>
<circle cx="451.5" cy="506.8" r="4.5"/>
<circle cx="502.9" cy="476" r="4.5"/>
<circle cx="476.5" cy="517.3" r="4.5"/>
<circle cx="506.5" cy="473" r="4.5"/>
<circle cx="480" cy="504.9" r="4.5"/>
<circle cx="443.4" cy="509.9" r="4.5"/>
<circle cx="477.4" cy="506" r="4.5"/>
<circle cx="508.1" cy="489.5" r="4.5"/>
<circle cx="501.4" cy="491.5" r="4.5"/>
<circle cx="439.3" cy="517.6" r="4.5"/>
<circle cx="485.9" cy="506.5" r="4.5"/>
<circle cx="475" cy="489.5" r="4.5"/>
<circle cx="451.9" cy="511.6" r="4.5"/>
<circle cx="481.8" cy="483.4" r="4.5"/>
<circle cx="473.3" cy="482.7" r="4.5"/>
<circle cx="443" cy="511.9" r="4.5"/>
<circle cx="448.9" cy="502.3" r="4.5"/>
<circle cx="464.4" cy="503.1" r="4.5"/>
<circle cx="470.6" cy="503.3" r="4.5"/>
<circle cx="460.4" cy="484.6" r="4.5"/>
<circle cx="502.4" cy="504.2" r="4.5"/>
<circle cx="474.3" cy="471.1" r="4.5"/>
<circle cx="478.1" cy="515.5" r="4.5"/>
<circle cx="482.2" cy="506.2" r="4.5"/>
<circle cx="441.6" cy="518.1" r="4.5"/>
<circle cx="513.4" cy="484.6" r="4.5"/>
<circle cx="517.7" cy="486.6" r="4.5"/>
<circle cx="446.6" cy="513" r="4.5"/>
<circle cx="451.2" cy="511.3" r="4.5"/>
<circle cx="486" cy="489.2" r="4.5"/>
<circle cx="510" cy="479.8" r="4.5"/>
<circle cx="479" cy="503.9" r="4.5"/>
<circle cx="465.6" cy="496.3" r="4.5"/>
<circle cx="456.4" cy="507.6" r="4.5"/>
<circle cx="476.3" cy="495.8" r="4.5"/>
<circle cx="479.5" cy="511.5" r="4.5"/>
<circle cx="487.5" cy="500" r="4.5"/>
<circle cx="474.6" cy="512" r="4.5"/>
<circle cx="466.9" cy="510.8" r="4.5"/>
<circle cx="475.6" cy="514.4" r="4.5"/>
<circle cx="508.1" cy="500.3" r="4.5"/>
<circle cx="462.6" cy="518.2" r="4.5"/>
<circle cx="475.8" cy="479.1" r="4.5"/>
<circle cx="488" cy="507.6" r="4.5"/>
<circle cx="474.1" cy="508.6" r="4.5"/>
<circle cx="493.5" cy="508.5" r="4.5"/>
<circle cx="470.8" cy="492.1" r="4.5"/>
<circle cx="464.4" cy="497.5" r="4.5"/>
<circle cx="483.5" cy="497" r="4.5"/>
<circle cx="489.4" cy="498.7" r="4.5"/>
<circle cx="464.2" cy="510.6" r="4.5"/>
<circle cx="486.5" cy="504.6" r="4.5"/>
<circle cx="462.6" cy="505.1" r="4.5"/>
<circle cx="477.4" cy="512.6" r="4.5"/>
<circle cx="470.8" cy="516.6" r="4.5"/>
<circle cx="456.7" cy="495.4" r="4.5"/>
<circle cx="463.9" cy="507.7" r="4.5"/>
<circle cx="450.3" cy="507.3" r="4.5"/>
<circle cx="493" cy="470.7" r="4.5"/>
<circle cx="478.2" cy="515.1" r="4.5"/>
<circle cx="518" cy="484.6" r="4.5"/>
<circle cx="441.3" cy="512" r="4.5"/>
<circle cx="507.8" cy="475.3" r="4.5"/>
<circle cx="475.3" cy="485" r="4.5"/>
<circle cx="463.6" cy="508.2" r="4.5"/>
<circle cx="457.9" cy="495.4" r="4.5"/>
<circle cx="513" cy="472.5" r="4.5"/>
<circle cx="500.1" cy="497.7" r="4.5"/>
<circle cx="472.3" cy="509.8" r="4.5"/>
<circle cx="459.7" cy="513.1" r="4.5"/>
<circle cx="449.8" cy="502" r="4.5"/>
<circle cx="481.8" cy="473.6" r="4.5"/>
<circle cx="478.1" cy="495.6" r="4.5"/>
<circle cx="438" cy="516.2" r="4.5"/>
<circle cx="460.9" cy="502.2" r="4.5"/>
<circle cx="465.8" cy="504.3" r="4.5"/>
<circle cx="467.9" cy="497.4" r="4.5"/>
<circle cx="480.8" cy="495.3" r="4.5"/>
<circle cx="499.2" cy="486.9" r="4.5"/>
<circle cx="468" cy="492.6" r="4.5"/>
<circle cx="507.9" cy="497.7" r="4.5"/>
<circle cx="470.2" cy="507.5" r="4.5"/>
<circle cx="490.2" cy="492.4" r="4.5"/>
<circle cx="464.5" cy="499.7" r="4.5"/>
<circle cx="454.4" cy="511.8" r="4.5"/>
<circle cx="514" cy="480.4" r="4.5"/>
<circle cx="460.9" cy="508.9" r="4.5"/>
<circle cx="513.3" cy="490.9" r="4.5"/>
<circle cx="507" cy="492.6" r="4.5"/>
<circle cx="473.1" cy="503.3" r="4.5"/>
<circle cx="497.6" cy="504" r="4.5"/>
<circle cx="457.1" cy="502.8" r="4.5"/>
<circle cx="441.5" cy="514.5" r="4.5"/>
<circle cx="486.2" cy="514.3" r="4.5"/>
<circle cx="480.8" cy="516.6" r="4.5"/>
<circle cx="479.9" cy="474.9" r="4.5"/>
<circle cx="487.3" cy="509.3" r="4.5"/>
<circle cx="477.5" cy="509.6" r="4.5"/>
<circle cx="487.1" cy="510.8" r="4.5"/>
<circle cx="470.1" cy="487.1" r="4.5"/>
<circle cx="476.9" cy="470.5" r="4.5"/>
<circle cx="502.6" cy="502.7" r="4.5"/>
<circle cx="459.1" cy="499.2" r="4.5"/>
<circle cx="467.9" cy="481.4" r="4.5"/>
<circle cx="468" cy="499.6" r="4.5"/>
<circle cx="519.3" cy="493.1" r="4.5"/>
<circle cx="441.2" cy="513.9" r="4.5"/>
<circle cx="451.4" cy="514.8" r="4.5"/>
<circle cx="515.7" cy="494.6" r="4.5"/>
<circle cx="447.8" cy="517.4" r="4.5"/>
<circle cx="454" cy="506.9" r="4.5"/>
<circle cx="461.8" cy="490.2" r="4.5"/>
<circle cx="505" cy="474.1" r="4.5"/>
<circle cx="450.7" cy="502.7" r="4.5"/>
<circle cx="486.7" cy="510.4" r="4.5"/>
<circle cx="451.3" cy="517.6" r="4.5"/>
<circle cx="486.6" cy="500.7" r="4.5"/>
<circle cx="461.7" cy="491.1" r="4.5"/>
<circle cx="511.6" cy="489.7" r="4.5"/>
<circle cx="505.3" cy="491.7" r="4.5"/>
<circle cx="518.3" cy="474.4" r="4.5"/>
<circle cx="501.4" cy="501.4" r="4.5"/>
<circle cx="479.6" cy="493.5" r="4.5"/>
<circle cx="492.8" cy="474.2" r="4.5"/>
<circle cx="464.8" cy="492.5" r="4.5"/>
<circle cx="468" cy="516.7" r="4.5"/>
<circle cx="478.4" cy="491.1" r="4.5"/>
<circle cx="479.8" cy="508.8" r="4.5"/>
<circle cx="471.1" cy="491.9" r="4.5"/>
<circle cx="489.7" cy="508.4" r="4.5"/>
<circle cx="481.4" cy="508.6" r="4.5"/>
<circle cx="491.5" cy="485.1" r="4.5"/>
<circle cx="472.1" cy="511.3" r="4.5"/>
<circle cx="472.2" cy="480.4" r="4.5"/>
<circle cx="482.4" cy="507.1" r="4.5"/>
<circle cx="509.1" cy="473.4" r="4.5"/>
<circle cx="443.7" cy="515.8" r="4.5"/>
<circle cx="465.9" cy="491.2" r="4.5"/>
<circle cx="452.9" cy="510.5" r="4.5"/>
<circle cx="468.7" cy="477.1" r="4.5"/>
<circle cx="471.6" cy="486.4" r="4.5"/>
<circle cx="488.8" cy="485" r="4.5"/>
<circle cx="455.3" cy="504" r="4.5"/>
<circle cx="494.5" cy="500.4" r="4.5"/>
<circle cx="484.5" cy="502.5" r="4.5"/>
<circle cx="475.4" cy="512.9" r="4.5"/>
<circle cx="448.8" cy="509.4" r="4.5"/>
<circle cx="480.6" cy="513.3" r="4.5"/>
<circle cx="463.9" cy="491.9" r="4.5"/>
<circle cx="480.5" cy="505.9" r="4.5"/>
<circle cx="497.3" cy="501.5" r="4.5"/>
<circle cx="439.7" cy="517.9" r="4.5"/>
<circle cx="466" cy="479.4" r="4.5"/>
<circle cx="477.4" cy="490.1" r="4.5"/>
<circle cx="444.5" cy="510.9" r="4.5"/>
<circle cx="465" cy="497.5" r="4.5"/>
<circle cx="493.8" cy="492.6" r="4.5"/>
<circle cx="514.1" cy="473" r="4.5"/>
<circle cx="440.3" cy="516.9" r="4.5"/>
<circle cx="482.6" cy="495.5" r="4.5"/>
<circle cx="475.5" cy="495.6" r="4.5"/>
<circle cx="462.2" cy="515.4" r="4.5"/>
<circle cx="492.9" cy="510.5" r="4.5"/>
<circle cx="493.6" cy="508.4" r="4.5"/>
<circle cx="509.9" cy="492.7" r="4.5"/>
<circle cx="480.1" cy="517.3" r="4.5"/>
<circle cx="445.7" cy="517.8" r="4.5"/>
<circle cx="488.5" cy="504.2" r="4.5"/>
<circle cx="497.4" cy="487.8" r="4.5"/>
<circle cx="512.8" cy="496.3" r="4.5"/>
<circle cx="469.3" cy="486.7" r="4.5"/>
<circle cx="459" cy="488.3" r="4.5"/>
<circle cx="440.1" cy="518.5" r="4.5"/>
<circle cx="469.9" cy="511.8" r="4.5"/>
<circle cx="457.6" cy="499.4" r="4.5"/>
<circle cx="444.2" cy="519" r="4.5"/>
<circle cx="449.9" cy="518.8" r="4.5"/>
<circle cx="513" cy="496.4" r="4.5"/>
<circle cx="507.6" cy="479" r="4.5"/>
<circle cx="512" cy="471.9" r="4.5"/>
<circle cx="478.8" cy="479.1" r="4.5"/>
<circle cx="462.5" cy="495.7" r="4.5"/>
<circle cx="454.9" cy="508.5" r="4.5"/>
<circle cx="514.7" cy="479.2" r="4.5"/>
<circle cx="472.2" cy="485" r="4.5"/>
<circle cx="472.1" cy="519.1" r="4.5"/>
<circle cx="460.9" cy="495.7" r="4.5"/>
<circle cx="501" cy="494.1" r="4.5"/>
<circle cx="440.6" cy="515.8" r="4.5"/>
<circle cx="474.2" cy="502.7" r="4.5"/>
<circle cx="454.4" cy="518.4" r="4.5"/>
<circle cx="504.4" cy="486.8" r="4.5"/>
<circle cx="477" cy="520.1" r="4.5"/>
<circle cx="474.1" cy="489.4" r="4.5"/>
<circle cx="497" cy="499" r="4.5"/>
<circle cx="452.7" cy="515.3" r="4.5"/>
<circle cx="464.6" cy="516.2" r="4.5"/>
<circle cx="485.5" cy="506.5" r="4.5"/>
<circle cx="492.8" cy="493.8" r="4.5"/>
<circle cx="488.2" cy="471.8" r="4.5"/>
<circle cx="503.9" cy="471.5" r="4.5"/>
<circle cx="465.7" cy="489.1" r="4.5"/>
<circle cx="491.2" cy="501" r="4.5"/>
<circle cx="452.2" cy="519.9" r="4.5"/>
<circle cx="484.3" cy="506" r="4.5"/>
<circle cx="462.6" cy="482.4" r="4.5"/>
<circle cx="450.3" cy="500.7" r="4.5"/>
<circle cx="498" cy="482.9" r="4.5"/>
<circle cx="482.6" cy="472.2" r="4.5"/>
<circle cx="457.2" cy="498.7" r="4.5"/>
<circle cx="497.8" cy="507.5" r="4.5"/>
<circle cx="451.6" cy="515.5" r="4.5"/>
<circle cx="511.7" cy="479.7" r="4.5"/>
<circle cx="460.5" cy="514.7" r="4.5"/>
<circle cx="479.3" cy="492.8" r="4.5"/>
<circle cx="478.1" cy="499" r="4.5"/>
<circle cx="484.9" cy="484.3" r="4.5"/>
<circle cx="440.2" cy="514.3" r="4.5"/>
<circle cx="471" cy="515.7" r="4.5"/>
<circle cx="509.4" cy="494" r="4.5"/>
<circle cx="436.7" cy="519.7" r="4.5"/>
<circle cx="492.2" cy="507.6" r="4.5"/>
<circle cx="487.2" cy="481.1" r="4.5"/>
<circle cx="438.3" cy="518.1" r="4.5"/>
<circle cx="492.2" cy="494.8" r="4.5"/>
<circle cx="465.6" cy="509.2" r="4.5"/>
<circle cx="451.9" cy="505.2" r="4.5"/>
<circle cx="478.9" cy="513.4" r="4.5"/>
<circle cx="488.5" cy="493.8" r="4.5"/>
<circle cx="467.1" cy="500" r="4.5"/>
<circle cx="445.9" cy="514" r="4.5"/>
<circle cx="488.9" cy="502.5" r="4.5"/>
<circle cx="478.4" cy="507.3" r="4.5"/>
<circle cx="470.2" cy="495.5" r="4.5"/>
<circle cx="492.9" cy="506.8" r="4.5"/>
<circle cx="474.5" cy="518.3" r="4.5"/>
<circle cx="467.2" cy="491.5" r="4.5"/>
<circle cx="511.5" cy="483.6" r="4.5"/>
<circle cx="469.9" cy="505.6" r="4.5"/>
<circle cx="478.4" cy="512.3" r="4.5"/>
<circle cx="463.5" cy="503.1" r="4.5"/>
<circle cx="497.3" cy="499.1" r="4.5"/>
<circle cx="474.9" cy="502.5" r="4.5"/>
<circle cx="494.9" cy="484.2" r="4.5"/>
<circle cx="486.1" cy="513.8" r="4.5"/>
<circle cx="441.8" cy="519.3" r="4.5"/>
<circle cx="493.1" cy="487" r="4.5"/>
<circle cx="467.7" cy="518.4" r="4.5"/>
<circle cx="480.4" cy="515.8" r="4.5"/>
<circle cx="460.2" cy="496.5" r="4.5"/>
<circle cx="473.9" cy="487.1" r="4.5"/>
<circle cx="496.2" cy="502.9" r="4.5"/>
<circle cx="507.9" cy="482.4" r="4.5"/>
<circle cx="462.2" cy="507.7" r="4.5"/>
<circle cx="448.3" cy="514.9" r="4.5"/>
<circle cx="498.2" cy="477" r="4.5"/>
<circle cx="450.4" cy="504.7" r="4.5"/>
<circle cx="510.7" cy="480.4" r="4.5"/>
<circle cx="504.3" cy="486.9" r="4.5"/>
<circle cx="472.9" cy="504.6" r="4.5"/>
<circle cx="474.9" cy="492.6" r="4.5"/>
<circle cx="459.9" cy="491.9" r="4.5"/>
<circle cx="484.3" cy="502.6" r="4.5"/>
<circle cx="472.1" cy="485.2" r="4.5"/>
<circle cx="478.8" cy="486.3" r="4.5"/>
<circle cx="498.8" cy="483" r="4.5"/>
<circle cx="473.9" cy="471" r="4.5"/>
<circle cx="486.4" cy="489.3" r="4.5"/>
<circle cx="458.8" cy="494.9" r="4.5"/>
<circle cx="489" cy="498.1" r="4.5"/>
<circle cx="457.3" cy="513.8" r="4.5"/>
<circle cx="492.5" cy="467.8" r="4.5"/>
<circle cx="463.4" cy="507.9" r="4.5"/>
<circle cx="496.6" cy="494.4" r="4.5"/>
<circle cx="469.3" cy="509.4" r="4.5"/>
<circle cx="463.1" cy="515.6" r="4.5"/>
<circle cx="476.7" cy="508.6" r="4.5"/>
<circle cx="475.5" cy="507.6" r="4.5"/>
<circle cx="447.2" cy="512.2" r="4.5"/>
<circle cx="451.3" cy="502.3" r="4.5"/>
<circle cx="498.6" cy="498.2" r="4.5"/>
<circle cx="474" cy="489.3" r="4.5"/>
<circle cx="479.9" cy="478" r="4.5"/>
<circle cx="502.5" cy="494.8" r="4.5"/>
<circle cx="486.3" cy="508.5" r="4.5"/>
<circle cx="515.1" cy="490.5" r="4.5"/>
<circle cx="493" cy="501.7" r="4.5"/>
<circle cx="450.9" cy="500.8" r="4.5"/>
<circle cx="467.4" cy="498.7" r="4.5"/>
<circle cx="504.9" cy="492.6" r="4.5"/>
<circle cx="465.4" cy="512.4" r="4.5"/>
<circle cx="448.7" cy="508.9" r="4.5"/>
<circle cx="504.8" cy="500.1" r="4.5"/>
<circle cx="459.3" cy="505.6" r="4.5"/>
<circle cx="442.4" cy="514.3" r="4.5"/>
<circle cx="455.4" cy="495" r="4.5"/>
<circle cx="479.1" cy="505.6" r="4.5"/>
<circle cx="471.7" cy="510.2" r="4.5"/>
<circle cx="494.2" cy="477.1" r="4.5"/>
<circle cx="461.6" cy="490.1" r="4.5"/>
<circle cx="478.7" cy="514.9" r="4.5"/>
<circle cx="466" cy="489.2" r="4.5"/>
<circle cx="480.4" cy="504.8" r="4.5"/>
<circle cx="499.3" cy="504.1" r="4.5"/>
<circle cx="481.7" cy="488.9" r="4.5"/>
<circle cx="489.2" cy="493.5" r="4.5"/>
<circle cx="487.4" cy="504.7" r="4.5"/>
<circle cx="499.2" cy="499.1" r="4.5"/>
<circle cx="472.2" cy="519.5" r="4.5"/>
<circle cx="475.2" cy="479.5" r="4.5"/>
<circle cx="489.2" cy="510.1" r="4.5"/>
<circle cx="489.2" cy="504.3" r="4.5"/>
<circle cx="481.5" cy="504.1" r="4.5"/>
<circle cx="499.7" cy="487.2" r="4.5"/>
<circle cx="474" cy="476.5" r="4.5"/>
<circle cx="466.8" cy="488.6" r="4.5"/>
<circle cx="445.5" cy="516.9" r="4.5"/>
<circle cx="463.9" cy="492.9" r="4.5"/>
<circle cx="464.9" cy="499.4" r="4.5"/>
<circle cx="493.7" cy="477.3" r="4.5"/>
<circle cx="471.1" cy="500.7" r="4.5"/>
<circle cx="498.6" cy="495.9" r="4.5"/>
<circle cx="477.4" cy="472.4" r="4.5"/>
<circle cx="479.1" cy="509.6" r="4.5"/>
<circle cx="491" cy="499.7" r="4.5"/>
<circle cx="473.3" cy="513.9" r="4.5"/>
<circle cx="489.6" cy="501.1" r="4.5"/>
<circle cx="517" cy="493.9" r="4.5"/>
<circle cx="485" cy="500.9" r="4.5"/>
<circle cx="460.6" cy="495.9" r="4.5"/>
<circle cx="463.7" cy="499.1" r="4.5"/>
<circle cx="459.6" cy="493.2" r="4.5"/>
<circle cx="464.1" cy="510.8" r="4.5"/>
<circle cx="510.3" cy="483.5" r="4.5"/>
<circle cx="514.6" cy="493.7" r="4.5"/>
<circle cx="448.5" cy="513.9" r="4.5"/>
<circle cx="482.8" cy="511" r="4.5"/>
<circle cx="476.7" cy="503.5" r="4.5"/>
<circle cx="446.9" cy="509" r="4.5"/>
<circle cx="490.4" cy="482.7" r="4.5"/>
<circle cx="469" cy="509.4" r="4.5"/>
<circle cx="467.1" cy="501.5" r="4.5"/>
<circle cx="470.8" cy="488.8" r="4.5"/>
<circle cx="474" cy="508.1" r="4.5"/>
<circle cx="461.3" cy="505.9" r="4.5"/>
<circle cx="457.2" cy="495.7" r="4.5"/>
<circle cx="464.2" cy="510.2" r="4.5"/>
<circle cx="508.9" cy="500.6" r="4.5"/>
<circle cx="479.2" cy="493.3" r="4.5"/>
<circle cx="494.4" cy="482.7" r="4.5"/>
<circle cx="473.6" cy="469.3" r="4.5"/>
<circle cx="484.5" cy="473.8" r="4.5"/>
<circle cx="504.2" cy="483" r="4.5"/>
<circle cx="463.9" cy="513.5" r="4.5"/>
<circle cx="486.7" cy="476.1" r="4.5"/>
<circle cx="475.8" cy="516.3" r="4.5"/>
<circle cx="467.4" cy="486" r="4.5"/>
<circle cx="493.6" cy="508.8" r="4.5"/>
<circle cx="487.1" cy="509.2" r="4.5"/>
<circle cx="479.6" cy="474.8" r="4.5"/>
<circle cx="457.2" cy="509.5" r="4.5"/>
<circle cx="468.3" cy="496.1" r="4.5"/>
<circle cx="468.7" cy="474" r="4.5"/>
<circle cx="478.4" cy="475.4" r="4.5"/>
<circle cx="519.5" cy="478.3" r="4.5"/>
<circle cx="461.7" cy="517.9" r="4.5"/>
<circle cx="510.4" cy="481.1" r="4.5"/>
<circle cx="460" cy="517.5" r="4.5"/>
<circle cx="494.1" cy="496.7" r="4.5"/>
<circle cx="467.9" cy="475.9" r="4.5"/>
<circle cx="493.5" cy="490.7" r="4.5"/>
<circle cx="473.2" cy="514.9" r="4.5"/>
<circle cx="512.7" cy="493.6" r="4.5"/>
<circle cx="465.9" cy="511.2" r="4.5"/>
<circle cx="486" cy="486.9" r="4.5"/>
<circle cx="436.5" cy="518.3" r="4.5"/>
<circle cx="461.6" cy="509.9" r="4.5"/>
<circle cx="459.1" cy="496.8" r="4.5"/>
<circle cx="475.5" cy="507.3" r="4.5"/>
<circle cx="459.3" cy="511.4" r="4.5"/>
<circle cx="473.8" cy="518.4" r="4.5"/>
<circle cx="490.3" cy="502.7" r="4.5"/>
<circle cx="487.6" cy="505.5" r="4.5"/>
<circle cx="469.9" cy="501.2" r="4.5"/>
<circle cx="454.5" cy="506.3" r="4.5"/>
<circle cx="470.6" cy="513.6" r="4.5"/>
<circle cx="491.7" cy="488.6" r="4.5"/>
<circle cx="455.1" cy="516.5" r="4.5"/>
<circle cx="448.8" cy="514.5" r="4.5"/>
<circle cx="487.8" cy="506.7" r="4.5"/>
<circle cx="474.6" cy="506.2" r="4.5"/>
<circle cx="489.1" cy="497.8" r="4.5"/>
<circle cx="484.6" cy="485.2" r="4.5"/>
<circle cx="516.1" cy="488.9" r="4.5"/>
<circle cx="472.7" cy="505.8" r="4.5"/>
<circle cx="452.6" cy="510.1" r="4.5"/>
<circle cx="515.8" cy="474.9" r="4.5"/>
<circle cx="497.9" cy="507.5" r="4.5"/>
<circle cx="482.4" cy="497.7" r="4.5"/>
<circle cx="485.3" cy="474.7" r="4.5"/>
<circle cx="486.1" cy="497.5" r="4.5"/>
<circle cx="471.2" cy="494.2" r="4.5"/>
<circle cx="488.5" cy="485.1" r="4.5"/>
<circle cx="509.1" cy="478.2" r="4.5"/>
<circle cx="477.5" cy="469.2" r="4.5"/>
<circle cx="508.6" cy="482.5" r="4.5"/>
<circle cx="498.8" cy="483.6" r="4.5"/>
<circle cx="490" cy="493.3" r="4.5"/>
<circle cx="462.4" cy="509.9" r="4.5"/>
<circle cx="499.6" cy="481.9" r="4.5"/>
<circle cx="485.2" cy="512.7" r="4.5"/>
<circle cx="490.3" cy="483.5" r="4.5"/>
<circle cx="501" cy="502.9" r="4.5"/>
<circle cx="443.2" cy="513.6" r="4.5"/>
<circle cx="482.1" cy="496.2" r="4.5"/>
<circle cx="508.4" cy="500.9" r="4.5"/>
<circle cx="480.7" cy="482.8" r="4.5"/>
<circle cx="451.6" cy="502.8" r="4.5"/>
<circle cx="516.2" cy="479.9" r="4.5"/>
<circle cx="479.9" cy="515.7" r="4.5"/>
<circle cx="479.2" cy="506" r="4.5"/>
<circle cx="476" cy="484.4" r="4.5"/>
<circle cx="492.3" cy="477" r="4.5"/>
<circle cx="451.2" cy="512.5" r="4.5"/>
<circle cx="513.5" cy="492.1" r="4.5"/>
<circle cx="470.6" cy="500.9" r="4.5"/>
<circle cx="502.3" cy="492.2" r="4.5"/>
<circle cx="455.4" cy="510.6" r="4.5"/>
<circle cx="487.6" cy="479.5" r="4.5"/>
<circle cx="489.1" cy="503.5" r="4.5"/>
<circle cx="480.9" cy="495.7" r="4.5"/>
<circle cx="477.6" cy="506.5" r="4.5"/>
<circle cx="476.5" cy="495.3" r="4.5"/>
<circle cx="444.7" cy="514.5" r="4.5"/>
<circle cx="521" cy="481.8" r="4.5"/>
<circle cx="478.7" cy="502.2" r="4.5"/>
<circle cx="463.1" cy="514.5" r="4.5"/>
<circle cx="464.8" cy="488.9" r="4.5"/>
<circle cx="449.3" cy="503.2" r="4.5"/>
<circle cx="507.4" cy="480.2" r="4.5"/>
<circle cx="439.4" cy="520.4" r="4.5"/>
<circle cx="455.5" cy="502.1" r="4.5"/>
<circle cx="468" cy="518" r="4.5"/>
<circle cx="523.1" cy="485.9" r="4.5"/>
<circle cx="467.4" cy="511.9" r="4.5"/>
<circle cx="483.6" cy="495.2" r="4.5"/>
<circle cx="466.9" cy="477.7" r="4.5"/>
<circle cx="454.2" cy="499.2" r="4.5"/>
<circle cx="490.4" cy="488.6" r="4.5"/>
<circle cx="459.2" cy="518.1" r="4.5"/>
<circle cx="499.2" cy="505.3" r="4.5"/>
<circle cx="481" cy="476.2" r="4.5"/>
<circle cx="454.1" cy="497.7" r="4.5"/>
<circle cx="517.4" cy="485.9" r="4.5"/>
<circle cx="466" cy="497.9" r="4.5"/>
<circle cx="462.4" cy="510" r="4.5"/>
<circle cx="435.2" cy="519.5" r="4.5"/>
<circle cx="482.8" cy="512.5" r="4.5"/>
<circle cx="480.7" cy="503.9" r="4.5"/>
<circle cx="502.9" cy="497.3" r="4.5"/>
<circle cx="507.1" cy="474.4" r="4.5"/>
<circle cx="463.7" cy="518.6" r="4.5"/>
<circle cx="487" cy="507.8" r="4.5"/>
<circle cx="500.6" cy="499.8" r="4.5"/>
<circle cx="516.4" cy="485.5" r="4.5"/>
<circle cx="472.1" cy="502.4" r="4.5"/>
<circle cx="492.7" cy="504.4" r="4.5"/>
<circle cx="463.9" cy="519.7" r="4.5"/>
<circle cx="470.3" cy="502.8" r="4.5"/>
<circle cx="511.2" cy="470.2" r="4.5"/>
<circle cx="468.8" cy="505.2" r="4.5"/>
<circle cx="449" cy="502.2" r="4.5"/>
<circle cx="477.6" cy="469.7" r="4.5"/>
<circle cx="489.9" cy="477.2" r="4.5"/>
<circle cx="512.1" cy="489.8" r="4.5"/>
<circle cx="465.9" cy="505.9" r="4.5"/>
<circle cx="480.8" cy="513.9" r="4.5"/>
<circle cx="475.7" cy="478.4" r="4.5"/>
<circle cx="488.8" cy="486.8" r="4.5"/>
<circle cx="512.9" cy="498.1" r="4.5"/>
<circle cx="510.6" cy="479.8" r="4.5"/>
<circle cx="481" cy="483.8" r="4.5"/>
<circle cx="486.2" cy="496.1" r="4.5"/>
<circle cx="468" cy="509.7" r="4.5"/>
<circle cx="516.1" cy="492.2" r="4.5"/>
<circle cx="467" cy="514.8" r="4.5"/>
<circle cx="479.6" cy="512.6" r="4.5"/>
<circle cx="452.8" cy="496" r="4.5"/>
<circle cx="468.7" cy="497" r="4.5"/>
<circle cx="493.6" cy="496.9" r="4.5"/>
<circle cx="455.2" cy="514.4" r="4.5"/>
<circle cx="479.7" cy="484.8" r="4.5"/>
<circle cx="483.8" cy="502.7" r="4.5"/>
<circle cx="514.4" cy="488.3" r="4.5"/>
<circle cx="454.1" cy="511.4" r="4.5"/>
<circle cx="460.3" cy="496.5" r="4.5"/>
<circle cx="490.9" cy="498.1" r="4.5"/>
<circle cx="476" cy="490.7" r="4.5"/>
<circle cx="485.2" cy="493.9" r="4.5"/>
<circle cx="456.9" cy="504.2" r="4.5"/>
<circle cx="510.9" cy="470.1" r="4.5"/>
<circle cx="469.4" cy="489.9" r="4.5"/>
<circle cx="467.2" cy="517.7" r="4.5"/>
<circle cx="469.9" cy="494.2" r="4.5"/>
<circle cx="505.3" cy="469.6" r="4.5"/>
<circle cx="453.1" cy="499.1" r="4.5"/>
<circle cx="501.4" cy="480.9" r="4.5"/>
<circle cx="508.2" cy="487.7" r="4.5"/>
<circle cx="492.9" cy="475.1" r="4.5"/>
<circle cx="501.4" cy="468.1" r="4.5"/>
<circle cx="455.9" cy="510.1" r="4.5"/>
<circle cx="459.2" cy="505.8" r="4.5"/>
<circle cx="465.7" cy="496.2" r="4.5"/>
<circle cx="497" cy="501.9" r="4.5"/>
<circle cx="494" cy="507.4" r="4.5"/>
<circle cx="452" cy="500.6" r="4.5"/>
<circle cx="456.3" cy="504.1" r="4.5"/>
<circle cx="481" cy="486.8" r="4.5"/>
<circle cx="460.7" cy="516.5" r="4.5"/>
<circle cx="441" cy="517.2" r="4.5"/>
<circle cx="487.4" cy="480.9" r="4.5"/>
<circle cx="443.1" cy="513.3" r="4.5"/>
<circle cx="460.6" cy="518.2" r="4.5"/>
<circle cx="455.5" cy="494.2" r="4.5"/>
<circle cx="509.4" cy="475.6" r="4.5"/>
<circle cx="479.2" cy="477.3" r="4.5"/>
<circle cx="443.8" cy="519.6" r="4.5"/>
<circle cx="518.5" cy="484.4" r="4.5"/>
<circle cx="487.9" cy="469.5" r="4.5"/>
<circle cx="484.1" cy="499.6" r="4.5"/>
<circle cx="476.9" cy="504.7" r="4.5"/>
<circle cx="497.7" cy="496" r="4.5"/>
<circle cx="443.3" cy="515.4" r="4.5"/>
<circle cx="479.3" cy="480.2" r="4.5"/>
<circle cx="496.1" cy="487.3" r="4.5"/>
<circle cx="455.4" cy="517.8" r="4.5"/>
<circle cx="497.5" cy="474.1" r="4.5"/>
<circle cx="455.9" cy="491.7" r="4.5"/>
<circle cx="519.3" cy="487.8" r="4.5"/>
<circle cx="454.9" cy="511.5" r="4.5"/>
<circle cx="483.7" cy="505" r="4.5"/>
<circle cx="509.2" cy="490.7" r="4.5"/>
<circle cx="468.4" cy="493.4" r="4.5"/>
<circle cx="502.9" cy="501.8" r="4.5"/>
<circle cx="456.2" cy="491" r="4.5"/>
<circle cx="470.1" cy="517.2" r="4.5"/>
<circle cx="513.9" cy="476.2" r="4.5"/>
<circle cx="474" cy="490.7" r="4.5"/>
<circle cx="496.9" cy="476.8" r="4.5"/>
<circle cx="488.2" cy="508.3" r="4.5"/>
<circle cx="453.7" cy="514.3" r="4.5"/>
<circle cx="476.7" cy="498.5" r="4.5"/>
<circle cx="482.5" cy="503.3" r="4.5"/>
<circle cx="473.1" cy="512.5" r="4.5"/>
<circle cx="497.9" cy="478.3" r="4.5"/>
<circle cx="515.9" cy="482.3" r="4.5"/>
<circle cx="459.4" cy="507.4" r="4.5"/>
<circle cx="500.2" cy="501.5" r="4.5"/>
<circle cx="484.6" cy="490.2" r="4.5"/>
<circle cx="482.4" cy="514.9" r="4.5"/>
<circle cx="481.4" cy="516.6" r="4.5"/>
<circle cx="452.2" cy="506.8" r="4.5"/>
<circle cx="455" cy="519.1" r="4.5"/>
<circle cx="517.2" cy="478.9" r="4.5"/>
<circle cx="463.1" cy="508.9" r="4.5"/>
<circle cx="444.4" cy="515" r="4.5"/>
<circle cx="451.7" cy="502.3" r="4.5"/>
<circle cx="514" cy="493.2" r="4.5"/>
<circle cx="480.9" cy="499.9" r="4.5"/>
<circle cx="444.6" cy="510" r="4.5"/>
<circle cx="490.3" cy="483.6" r="4.5"/>
<circle cx="466.4" cy="504.7" r="4.5"/>
<circle cx="445.5" cy="516.9" r="4.5"/>
<circle cx="455.8" cy="505.9" r="4.5"/>
<circle cx="479.1" cy="480.4" r="4.5"/>
<circle cx="477.1" cy="507.6" r="4.5"/>
<circle cx="486.2" cy="509.9" r="4.5"/>
<circle cx="502.2" cy="491.8" r="4.5"/>
<circle cx="506.6" cy="494.3" r="4.5"/>
<circle cx="493" cy="510.9" r="4.5"/>
<circle cx="470.8" cy="479.2" r="4.5"/>
<circle cx="444.8" cy="520.4" r="4.5"/>
<circle cx="469.9" cy="515" r="4.5"/>
<circle cx="467.1" cy="513.2" r="4.5"/>
<circle cx="512.7" cy="482.3" r="4.5"/>
<circle cx="457.2" cy="517.7" r="4.5"/>
<circle cx="508.5" cy="484.2" r="4.5"/>
<circle cx="467.9" cy="506.8" r="4.5"/>
<circle cx="483.8" cy="513.6" r="4.5"/>
<circle cx="474.7" cy="504.4" r="4.5"/>
<circle cx="481.6" cy="514.8" r="4.5"/>
<circle cx="481.3" cy="509.9" r="4.5"/>
<circle cx="476.3" cy="495.6" r="4.5"/>
<circle cx="509.1" cy="497.6" r="4.5"/>
<circle cx="464.7" cy="513.2" r="4.5"/>
<circle cx="461.6" cy="504.7" r="4.5"/>
<circle cx="474" cy="514" r="4.5"/>
<circle cx="449.7" cy="503.9" r="4.5"/>
<circle cx="462.2" cy="514.6" r="4.5"/>
<circle cx="494" cy="489.9" r="4.5"/>
<circle cx="463.1" cy="481" r="4.5"/>
<circle cx="470.7" cy="498.4" r="4.5"/>
<circle cx="450.5" cy="510.2" r="4.5"/>
<circle cx="513.1" cy="492.4" r="4.5"/>
<circle cx="479.5" cy="495.3" r="4.5"/>
<circle cx="514.9" cy="488" r="4.5"/>
<circle cx="504.4" cy="494.2" r="4.5"/>
<circle cx="501" cy="491.3" r="4.5"/>
<circle cx="455.7" cy="509.2" r="4.5"/>
<circle cx="468.5" cy="503.4" r="4.5"/>
<circle cx="492.5" cy="492" r="4.5"/>
<circle cx="481.5" cy="500.6" r="4.5"/>
<circle cx="484.5" cy="511.5" r="4.5"/>
<circle cx="458.4" cy="502.4" r="4.5"/>
<circle cx="478.8" cy="488.3" r="4.5"/>
<circle cx="474.9" cy="499.1" r="4.5"/>
<circle cx="479.5" cy="512.4" r="4.5"/>
<circle cx="504.1" cy="499.6" r="4.5"/>
<circle cx="454.7" cy="494.7" r="4.5"/>
<circle cx="454.8" cy="515.3" r="4.5"/>
<circle cx="502.2" cy="485" r="4.5"/>
<circle cx="482.3" cy="498.4" r="4.5"/>
<circle cx="515.1" cy="489.9" r="4.5"/>
<circle cx="443.4" cy="510.3" r="4.5"/>
<circle cx="519.5" cy="487.9" r="4.5"/>
<circle cx="482.9" cy="477.5" r="4.5"/>
<circle cx="496.4" cy="490.8" r="4.5"/>
<circle cx="482.3" cy="510.9" r="4.5"/>
<circle cx="457.6" cy="502.3" r="4.5"/>
<circle cx="470.1" cy="500.5" r="4.5"/>
<circle cx="505.5" cy="500.3" r="4.5"/>
<circle cx="482.7" cy="511.7" r="4.5"/>
<circle cx="459.1" cy="497.7" r="4.5"/>
<circle cx="490.6" cy="500.2" r="4.5"/>
<circle cx="469.9" cy="486.1" r="4.5"/>
<circle cx="493.3" cy="466.6" r="4.5"/>
<circle cx="488.2" cy="482.2" r="4.5"/>
<circle cx="511.1" cy="487.1" r="4.5"/>
<circle cx="485" cy="488.4" r="4.5"/>
<circle cx="480.6" cy="476.3" r="4.5"/>
<circle cx="468.3" cy="506.5" r="4.5"/>
<circle cx="476.8" cy="519.3" r="4.5"/>
<circle cx="500.5" cy="485.9" r="4.5"/>
<circle cx="482" cy="498.8" r="4.5"/>
<circle cx="486.2" cy="511.5" r="4.5"/>
<circle cx="456.7" cy="508.8" r="4.5"/>
<circle cx="445.8" cy="513.6" r="4.5"/>
<circle cx="464.1" cy="511.3" r="4.5"/>
<circle cx="508.1" cy="469.6" r="4.5"/>
<circle cx="462.4" cy="505.4" r="4.5"/>
<circle cx="443.6" cy="512.8" r="4.5"/>
<circle cx="474" cy="484.7" r="4.5"/>
<circle cx="479.6" cy="505.1" r="4.5"/>
<circle cx="465.7" cy="510.9" r="4.5"/>
<circle cx="466.6" cy="516.3" r="4.5"/>
<circle cx="453.1" cy="511" r="4.5"/>
<circle cx="492.7" cy="501.3" r="4.5"/>
<circle cx="470.9" cy="472" r="4.5"/>
<circle cx="456.4" cy="519.9" r="4.5"/>
<circle cx="488.8" cy="502.3" r="4.5"/>
<circle cx="498" cy="497.2" r="4.5"/>
<circle cx="495.3" cy="497.4" r="4.5"/>
<circle cx="465.7" cy="516.6" r="4.5"/>
<circle cx="472.1" cy="494" r="4.5"/>
<circle cx="450.1" cy="519" r="4.5"/>
<circle cx="463.3" cy="481.1" r="4.5"/>
<circle cx="492.8" cy="496.9" r="4.5"/>
<circle cx="453.7" cy="495.8" r="4.5"/>
<circle cx="479.2" cy="515.7" r="4.5"/>
<circle cx="463" cy="506.9" r="4.5"/>
<circle cx="477.2" cy="513.2" r="4.5"/>
<circle cx="462.6" cy="501.2" r="4.5"/>
<circle cx="504.7" cy="476.5" r="4.5"/>
<circle cx="448.8" cy="507.8" r="4.5"/>
<circle cx="496.6" cy="505.1" r="4.5"/>
<circle cx="493.9" cy="489.8" r="4.5"/>
<circle cx="517.5" cy="487.2" r="4.5"/>
<circle cx="488.4" cy="486.3" r="4.5"/>
<circle cx="476.9" cy="514.7" r="4.5"/>
<circle cx="454.6" cy="500.8" r="4.5"/>
<circle cx="498.3" cy="472.4" r="4.5"/>
<circle cx="472.1" cy="487.6" r="4.5"/>
<circle cx="477.3" cy="474.5" r="4.5"/>
<circle cx="447.4" cy="518.7" r="4.5"/>
<circle cx="455.8" cy="494.2" r="4.5"/>
<circle cx="479.3" cy="510.5" r="4.5"/>
<circle cx="465.1" cy="490.9" r="4.5"/>
<circle cx="482.1" cy="503.9" r="4.5"/>
<circle cx="468.4" cy="489.4" r="4.5"/>
<circle cx="438.6" cy="516.4" r="4.5"/>
<circle cx="505.9" cy="482.8" r="4.5"/>
<circle cx="461.2" cy="520.2" r="4.5"/>
<circle cx="462.5" cy="515.2" r="4.5"/>
<circle cx="474.8" cy="509.5" r="4.5"/>
<circle cx="495.5" cy="476.1" r="4.5"/>
<circle cx="465.3" cy="515.8" r="4.5"/>
<circle cx="511.5" cy="491.1" r="4.5"/>
<circle cx="522.9" cy="485.4" r="4.5"/>
<circle cx="516.8" cy="493.2" r="4.5"/>
<circle cx="489.8" cy="504.6" r="4.5"/>
<circle cx="490.8" cy="504.6" r="4.5"/>
<circle cx="509.2" cy="495.3" r="4.5"/>
<circle cx="442.8" cy="520" r="4.5"/>
<circle cx="468.4" cy="501.7" r="4.5"/>
<circle cx="486" cy="496.4" r="4.5"/>
<circle cx="473.6" cy="497.1" r="4.5"/>
<circle cx="504.2" cy="501" r="4.5"/>
<circle cx="483.2" cy="472.1" r="4.5"/>
<circle cx="466.3" cy="514.7" r="4.5"/>
<circle cx="461.7" cy="487" r="4.5"/>
<circle cx="484.9" cy="473.9" r="4.5"/>
<circle cx="519.1" cy="485.3" r="4.5"/>
<circle cx="484.6" cy="514.7" r="4.5"/>
<circle cx="483.9" cy="503.6" r="4.5"/>
<circle cx="456" cy="494.6" r="4.5"/>
<circle cx="477.2" cy="499.5" r="4.5"/>
<circle cx="490.2" cy="503.2" r="4.5"/>
<circle cx="503.6" cy="490.5" r="4.5"/>
<circle cx="498.6" cy="490.5" r="4.5"/>
<circle cx="481.9" cy="495.9" r="4.5"/>
<circle cx="514.4" cy="488.9" r="4.5"/>
<circle cx="488.1" cy="476.1" r="4.5"/>
<circle cx="499.1" cy="459.6" r="4.5"/>
<circle cx="505.3" cy="445" r="4.5"/>
<circle cx="481.2" cy="457.5" r="4.5"/>
<circle cx="532.7" cy="470.3" r="4.5"/>
<circle cx="517.4" cy="467.1" r="4.5"/>
<circle cx="490" cy="441.7" r="4.5"/>
<circle cx="485.3" cy="451.1" r="4.5"/>
<circle cx="471.6" cy="467.9" r="4.5"/>
<circle cx="494.8" cy="448.2" r="4.5"/>
<circle cx="471" cy="470.3" r="4.5"/>
<circle cx="471.1" cy="467.9" r="4.5"/>
<circle cx="534.4" cy="452.8" r="4.5"/>
<circle cx="522.6" cy="460.8" r="4.5"/>
<circle cx="515.3" cy="469.2" r="4.5"/>
<circle cx="475.8" cy="463.9" r="4.5"/>
<circle cx="471.6" cy="466.2" r="4.5"/>
<circle cx="500.3" cy="455.1" r="4.5"/>
<circle cx="501.2" cy="451.2" r="4.5"/>
<circle cx="513.4" cy="439" r="4.5"/>
<circle cx="510.3" cy="450.2" r="4.5"/>
<circle cx="525.9" cy="441.4" r="4.5"/>
<circle cx="475.9" cy="464.4" r="4.5"/>
<circle cx="471.4" cy="466.5" r="4.5"/>
<circle cx="514.7" cy="461.5" r="4.5"/>
<circle cx="515.4" cy="451.6" r="4.5"/>
<circle cx="477.8" cy="454.2" r="4.5"/>
<circle cx="523.1" cy="464.7" r="4.5"/>
<circle cx="481.5" cy="465.8" r="4.5"/>
<circle cx="502.7" cy="453.8" r="4.5"/>
<circle cx="499.5" cy="471" r="4.5"/>
<circle cx="514.8" cy="461.7" r="4.5"/>
<circle cx="484.4" cy="464.2" r="4.5"/>
<circle cx="476.2" cy="461.4" r="4.5"/>
<circle cx="487.6" cy="440.2" r="4.5"/>
<circle cx="486.1" cy="428.3" r="4.5"/>
<circle cx="526.5" cy="455.9" r="4.5"/>
<circle cx="485.7" cy="457.8" r="4.5"/>
<circle cx="510.2" cy="452" r="4.5"/>
<circle cx="482.2" cy="443.7" r="4.5"/>
<circle cx="486.4" cy="466" r="4.5"/>
<circle cx="489.4" cy="454.4" r="4.5"/>
<circle cx="489.8" cy="460.4" r="4.5"/>
<circle cx="509.1" cy="424.9" r="4.5"/>
<circle cx="511.5" cy="471.4" r="4.5"/>
<circle cx="510.9" cy="459.2" r="4.5"/>
<circle cx="489" cy="428.4" r="4.5"/>
<circle cx="493.1" cy="433.4" r="4.5"/>
<circle cx="511" cy="470.8" r="4.5"/>
<circle cx="517.2" cy="451.6" r="4.5"/>
<circle cx="494.1" cy="426.7" r="4.5"/>
<circle cx="494.3" cy="448.7" r="4.5"/>
<circle cx="509.6" cy="462.2" r="4.5"/>
<circle cx="511.8" cy="453.2" r="4.5"/>
<circle cx="481.8" cy="452.8" r="4.5"/>
<circle cx="512.8" cy="430.5" r="4.5"/>
<circle cx="499.1" cy="437.2" r="4.5"/>
<circle cx="504.9" cy="460" r="4.5"/>
<circle cx="498.5" cy="449.8" r="4.5"/>
<circle cx="517.4" cy="455.2" r="4.5"/>
<circle cx="508.4" cy="471.8" r="4.5"/>
<circle cx="499.9" cy="464.2" r="4.5"/>
<circle cx="507.9" cy="448.8" r="4.5"/>
<circle cx="517.5" cy="472.1" r="4.5"/>
<circle cx="515.1" cy="451.4" r="4.5"/>
<circle cx="475.4" cy="459" r="4.5"/>
<circle cx="519.2" cy="458.4" r="4.5"/>
<circle cx="507.8" cy="437.5" r="4.5"/>
<circle cx="497.4" cy="465.3" r="4.5"/>
<circle cx="510.8" cy="445.2" r="4.5"/>
<circle cx="510" cy="447.3" r="4.5"/>
<circle cx="502.4" cy="425.6" r="4.5"/>
<circle cx="509.9" cy="461.6" r="4.5"/>
<circle cx="518.3" cy="430.8" r="4.5"/>
<circle cx="481.2" cy="469.6" r="4.5"/>
<circle cx="513.9" cy="469.1" r="4.5"/>
<circle cx="471.2" cy="469.4" r="4.5"/>
<circle cx="482.9" cy="461.4" r="4.5"/>
<circle cx="506.2" cy="454.6" r="4.5"/>
<circle cx="501.5" cy="443.3" r="4.5"/>
<circle cx="512.8" cy="462.9" r="4.5"/>
<circle cx="516.2" cy="445.6" r="4.5"/>
<circle cx="483.2" cy="442.4" r="4.5"/>
<circle cx="486.5" cy="468.9" r="4.5"/>
<circle cx="511.3" cy="428.4" r="4.5"/>
<circle cx="535.7" cy="458.4" r="4.5"/>
<circle cx="479.6" cy="464.6" r="4.5"/>
<circle cx="518.5" cy="443.1" r="4.5"/>
<circle cx="489.1" cy="430.6" r="4.5"/>
<circle cx="498.9" cy="470.6" r="4.5"/>
<circle cx="525.5" cy="472.9" r="4.5"/>
<circle cx="477.4" cy="456.2" r="4.5"/>
<circle cx="526.2" cy="454.9" r="4.5"/>
<circle cx="473.2" cy="466.6" r="4.5"/>
<circle cx="492.5" cy="468.9" r="4.5"/>
<circle cx="509.5" cy="451.9" r="4.5"/>
<circle cx="483.1" cy="439.4" r="4.5"/>
<circle cx="513.2" cy="456.4" r="4.5"/>
<circle cx="472.9" cy="464.1" r="4.5"/>
<circle cx="514.7" cy="444.6" r="4.5"/>
<circle cx="485.3" cy="459.9" r="4.5"/>
<circle cx="492.2" cy="462.9" r="4.5"/>
<circle cx="506.7" cy="442.9" r="4.5"/>
<circle cx="478.4" cy="459.8" r="4.5"/>
<circle cx="496.2" cy="447.6" r="4.5"/>
<circle cx="501.9" cy="459.1" r="4.5"/>
<circle cx="476.3" cy="457" r="4.5"/>
<circle cx="502.4" cy="469.7" r="4.5"/>
<circle cx="502.2" cy="431.5" r="4.5"/>
<circle cx="505.7" cy="457.7" r="4.5"/>
<circle cx="515.9" cy="461.5" r="4.5"/>
<circle cx="477.8" cy="459" r="4.5"/>
<circle cx="499.9" cy="458.7" r="4.5"/>
<circle cx="514.3" cy="469.4" r="4.5"/>
<circle cx="490" cy="461.6" r="4.5"/>
<circle cx="502.5" cy="441.9" r="4.5"/>
<circle cx="473.8" cy="463.1" r="4.5"/>
<circle cx="497.5" cy="421.9" r="4.5"/>
<circle cx="524.9" cy="444.7" r="4.5"/>
<circle cx="495.7" cy="458.4" r="4.5"/>
<circle cx="514" cy="439.5" r="4.5"/>
<circle cx="485.2" cy="466.8" r="4.5"/>
<circle cx="238.6" cy="163.3" r="4.5"/>
<circle cx="208.5" cy="241" r="4.5"/>
<circle cx="191.3" cy="293.2" r="4.5"/>
<circle cx="195.2" cy="296.2" r="4.5"/>
<circle cx="204.5" cy="316.5" r="4.5"/>
<circle cx="223.7" cy="323.3" r="4.5"/>
<circle cx="186.4" cy="333.8" r="4.5"/>
<circle cx="190.4" cy="334.2" r="4.5"/>
<circle cx="196.1" cy="334.6" r="4.5"/>
<circle cx="204.7" cy="334.8" r="4.5"/>
<circle cx="207.1" cy="340.6" r="4.5"/>
<circle cx="193.4" cy="343.2" r="4.5"/>
<circle cx="230.6" cy="341.8" r="4.5"/>
<circle cx="225.1" cy="352.2" r="4.5"/>
<circle cx="226" cy="353" r="4.5"/>
<circle cx="219.1" cy="358.2" r="4.5"/>
<circle cx="236.6" cy="358.6" r="4.5"/>
<circle cx="224.7" cy="363.9" r="4.5"/>
<circle cx="200.5" cy="370.3" r="4.5"/>
<circle cx="201.3" cy="371" r="4.5"/>
<circle cx="228.5" cy="371.3" r="4.5"/>
<circle cx="238.2" cy="370.9" r="4.5"/>
<circle cx="250.2" cy="370.9" r="4.5"/>
<circle cx="270.3" cy="371.9" r="4.5"/>
<circle cx="212.1" cy="374.7" r="4.5"/>
<circle cx="220.5" cy="376.3" r="4.5"/>
<circle cx="241.2" cy="377.3" r="4.5"/>
<circle cx="206.5" cy="379.9" r="4.5"/>
<circle cx="255.8" cy="378.3" r="4.5"/>
<circle cx="257.8" cy="381.3" r="4.5"/>
<circle cx="212.1" cy="384.3" r="4.5"/>
<circle cx="213" cy="385" r="4.5"/>
<circle cx="218.1" cy="384.3" r="4.5"/>
<circle cx="225.5" cy="383.3" r="4.5"/>
<circle cx="236.6" cy="382.3" r="4.5"/>
<circle cx="264.2" cy="385.3" r="4.5"/>
<circle cx="272.3" cy="386.3" r="4.5"/>
<circle cx="250.2" cy="388.3" r="4.5"/>
<circle cx="194.5" cy="394.3" r="4.5"/>
<circle cx="213.7" cy="395.4" r="4.5"/>
<circle cx="214.5" cy="398.4" r="4.5"/>
<circle cx="289.3" cy="392.7" r="4.5"/>
<circle cx="274.3" cy="394.3" r="4.5"/>
<circle cx="275" cy="395.2" r="4.5"/>
<circle cx="273.5" cy="393.5" r="4.5"/>
<circle cx="248.2" cy="395.4" r="4.5"/>
<circle cx="241.2" cy="399.4" r="4.5"/>
<circle cx="258.2" cy="398.4" r="4.5"/>
<circle cx="264.2" cy="402.4" r="4.5"/>
<circle cx="276.3" cy="402.4" r="4.5"/>
<circle cx="195.1" cy="401.4" r="4.5"/>
<circle cx="199.7" cy="403.4" r="4.5"/>
<circle cx="205.7" cy="411" r="4.5"/>
<circle cx="226.1" cy="408.8" r="4.5"/>
<circle cx="227" cy="409.6" r="4.5"/>
<circle cx="225.3" cy="408" r="4.5"/>
<circle cx="233.2" cy="403.4" r="4.5"/>
<circle cx="241.2" cy="406.4" r="4.5"/>
<circle cx="252.2" cy="406.4" r="4.5"/>
<circle cx="269.3" cy="410.4" r="4.5"/>
<circle cx="280.7" cy="411.4" r="4.5"/>
<circle cx="295.3" cy="413" r="4.5"/>
<circle cx="244.2" cy="414.4" r="4.5"/>
<circle cx="254.2" cy="414.4" r="4.5"/>
<circle cx="232.2" cy="420.4" r="4.5"/>
<circle cx="233" cy="421.2" r="4.5"/>
<circle cx="231.4" cy="419.6" r="4.5"/>
<circle cx="213.5" cy="424" r="4.5"/>
<circle cx="271.3" cy="421.4" r="4.5"/>
<circle cx="282.3" cy="422.4" r="4.5"/>
<circle cx="291.9" cy="424" r="4.5"/>
<circle cx="306.4" cy="425.4" r="4.5"/>
<circle cx="242.2" cy="422.4" r="4.5"/>
<circle cx="256.2" cy="423.4" r="4.5"/>
<circle cx="262.2" cy="423.4" r="4.5"/>
<circle cx="224.1" cy="431.5" r="4.5"/>
<circle cx="225.1" cy="436.5" r="4.5"/>
<circle cx="234.2" cy="428.4" r="4.5"/>
<circle cx="289.5" cy="393.3" r="4.5"/>
<circle cx="315.3" cy="430.1" r="4.5"/>
<circle cx="321.2" cy="445.1" r="4.5"/>
<circle cx="326.2" cy="449.3" r="4.5"/>
<circle cx="339.6" cy="461" r="4.5"/>
<circle cx="307" cy="425.1" r="4.5"/>
<circle cx="617.3" cy="226.3" r="4.5"/>
<circle cx="623.8" cy="276.1" r="4.5"/>
<circle cx="619.7" cy="285.7" r="4.5"/>
<circle cx="558.6" cy="285.7" r="4.5"/>
<circle cx="567.8" cy="289.5" r="4.5"/>
<circle cx="557.2" cy="297.5" r="4.5"/>
<circle cx="543.7" cy="319.8" r="4.5"/>
<circle cx="584.4" cy="320.2" r="4.5"/>
<circle cx="575.4" cy="325.6" r="4.5"/>
<circle cx="534.1" cy="335.2" r="4.5"/>
<circle cx="567.4" cy="345.3" r="4.5"/>
<circle cx="572.6" cy="348.9" r="4.5"/>
<circle cx="573.2" cy="355.3" r="4.5"/>
<circle cx="559.2" cy="355.3" r="4.5"/>
<circle cx="606.7" cy="354.7" r="4.5"/>
<circle cx="580.2" cy="365.3" r="4.5"/>
<circle cx="520.5" cy="364.7" r="4.5"/>
<circle cx="526.5" cy="367.3" r="4.5"/>
<circle cx="532.7" cy="369.3" r="4.5"/>
<circle cx="592.7" cy="371.9" r="4.5"/>
<circle cx="591.3" cy="378.4" r="4.5"/>
<circle cx="606.3" cy="381.8" r="4.5"/>
<circle cx="526.1" cy="380.4" r="4.5"/>
<circle cx="519.5" cy="383" r="4.5"/>
<circle cx="548.1" cy="384.8" r="4.5"/>
<circle cx="547.7" cy="391.4" r="4.5"/>
<circle cx="550.2" cy="396.4" r="4.5"/>
<circle cx="559.2" cy="390.4" r="4.5"/>
<circle cx="557.2" cy="395.8" r="4.5"/>
<circle cx="529.5" cy="389" r="4.5"/>
<circle cx="508.4" cy="388.4" r="4.5"/>
<circle cx="512" cy="391.4" r="4.5"/>
<circle cx="624.4" cy="392.4" r="4.5"/>
<circle cx="624" cy="393.4" r="4.5"/>
<circle cx="585.2" cy="401.4" r="4.5"/>
<circle cx="499.6" cy="399.4" r="4.5"/>
<circle cx="530.1" cy="402.4" r="4.5"/>
<circle cx="537.1" cy="403.4" r="4.5"/>
<circle cx="533.1" cy="407.4" r="4.5"/>
<circle cx="515.1" cy="402.4" r="4.5"/>
<circle cx="513" cy="405.4" r="4.5"/>
<circle cx="517.1" cy="409.4" r="4.5"/>
<circle cx="614.3" cy="406" r="4.5"/>
<circle cx="576.2" cy="408.4" r="4.5"/>
<circle cx="547.1" cy="410.4" r="4.5"/>
<circle cx="559.2" cy="411.5" r="4.5"/>
<circle cx="568.2" cy="414.5" r="4.5"/>
<circle cx="589.3" cy="414.1" r="4.5"/>
<circle cx="603.3" cy="413.5" r="4.5"/>
<circle cx="504" cy="410" r="4.5"/>
<circle cx="502" cy="413" r="4.5"/>
<circle cx="506" cy="415" r="4.5"/>
<circle cx="500" cy="407" r="4.5"/>
<circle cx="524" cy="416.5" r="4.5"/>
<circle cx="522" cy="424.5" r="4.5"/>
<circle cx="525" cy="419" r="4.5"/>
<circle cx="534.1" cy="421.5" r="4.5"/>
<circle cx="541.1" cy="423.5" r="4.5"/>
<circle cx="559.2" cy="426.5" r="4.5"/>
<circle cx="508" cy="422.5" r="4.5"/>
<circle cx="591.3" cy="429.5" r="4.5"/>
<circle cx="590.6" cy="432.3" r="4.5"/>
<circle cx="571.6" cy="435.4" r="4.5"/>
<circle cx="548.5" cy="434.6" r="4.5"/>
<circle cx="560.2" cy="440.5" r="4.5"/>
<circle cx="561" cy="441.2" r="4.5"/>
<circle cx="549.3" cy="444.9" r="4.5"/>
<circle cx="562.5" cy="445.2" r="4.5"/>
<circle cx="555.5" cy="453" r="4.5"/>
<circle cx="563.3" cy="455.3" r="4.5"/>
<circle cx="550.1" cy="456.1" r="4.5"/>
<circle cx="553.2" cy="456.9" r="4.5"/>
<circle cx="561.8" cy="461.6" r="4.5"/>
<circle cx="537.6" cy="458.5" r="4.5"/>
<circle cx="552.4" cy="467.8" r="4.5"/>
<circle cx="553" cy="468.6" r="4.5"/>
<circle cx="540.7" cy="469.4" r="4.5"/>
<circle cx="539.9" cy="473.3" r="4.5"/>
<circle cx="533.7" cy="480.3" r="4.5"/>
<circle cx="534.5" cy="481" r="4.5"/>
<circle cx="539.1" cy="481.1" r="4.5"/>
<circle cx="524.3" cy="415.6" r="4.5"/>
<circle cx="525" cy="416.4" r="4.5"/>
<circle cx="522.8" cy="424.2" r="4.5"/>
<circle cx="523.5" cy="425" r="4.5"/>
<circle cx="533.7" cy="420.3" r="4.5"/>
<circle cx="537.6" cy="423.4" r="4.5"/>
<circle cx="541.5" cy="423.4" r="4.5"/>
<circle cx="530.6" cy="431.2" r="4.5"/>
<circle cx="536" cy="433.5" r="4.5"/>
<circle cx="529.8" cy="439" r="4.5"/>
<circle cx="536" cy="441.3" r="4.5"/>
<circle cx="528.2" cy="447.5" r="4.5"/>
<circle cx="522" cy="454.6" r="4.5"/>
<circle cx="522.8" cy="455.4" r="4.5"/>
<circle cx="515.8" cy="437.4" r="4.5"/>
<circle cx="514.2" cy="446.8" r="4.5"/>
<circle cx="515" cy="447.6" r="4.5"/>
<circle cx="494.7" cy="409.4" r="4.5"/>
<circle cx="503.3" cy="406.2" r="4.5"/>
<circle cx="513.4" cy="403.1" r="4.5"/>
<circle cx="517.3" cy="409.4" r="4.5"/>
<circle cx="504.1" cy="414.8" r="4.5"/>
<circle cx="508" cy="422.6" r="4.5"/>
<circle cx="482.3" cy="432" r="4.5"/>
<circle cx="481.5" cy="439" r="4.5"/>
<circle cx="480.7" cy="446.8" r="4.5"/>
<circle cx="475.2" cy="459.2" r="4.5"/>
<circle cx="466.7" cy="472.5" r="4.5"/>
<circle cx="458.9" cy="479.5" r="4.5"/>
</g>
<g fill="#00f" fill-opacity=".8">
<circle cx="184.3" cy="233.3" r="4.4"/>
<circle cx="169.3" cy="255.4" r="4.4"/>
<circle cx="147.4" cy="289.5" r="4.4"/>
<circle cx="155.2" cy="347.3" r="4.4"/>
<circle cx="180.2" cy="374.8" r="4.4"/>
<circle cx="179.5" cy="385.1" r="4.4"/>
<circle cx="164.9" cy="29.2" r="4.4"/>
<circle cx="86.6" cy="128.1" r="4.4"/>
<circle cx="121.8" cy="110.4" r="4.4"/>
<circle cx="122.8" cy="129.3" r="4.4"/>
<circle cx="89.8" cy="199.6" r="4.4"/>
<circle cx="117.8" cy="228.2" r="4.4"/>
</g><g fill="#f00" fill-opacity=".8">
<circle cx="645.6" cy="253.5" r="4.4"/>
<circle cx="657.4" cy="255.5" r="4.4"/>
<circle cx="642.3" cy="263.1" r="4.4"/>
<circle cx="628.4" cy="336.5" r="4.4"/>
<circle cx="649.4" cy="125.4" r="4.4"/>
<circle cx="758.3" cy="127.9" r="4.4"/>
<circle cx="672.4" cy="134.1" r="4.4"/>
<circle cx="725.1" cy="231" r="4.4"/>
</g>
<g stroke="#000" stroke-opacity=".8" stroke-width="1.07" stroke-dasharray="4.27 4.27" fill="none">
<path d="M184.90 544.8V5.5"/>
<path d="M627.55 544.8V5.5"/>
<path d="M53.5 494.10H791.5" stroke-dashoffset=".5"/>
</g>
<g stroke="#2a2a2a" stroke-width="1.07" fill="none">
<path d="M169.6 27.5L178.3 24.7"/>
<path d="M91.9 98.2L87.4 123.6"/>
<path d="M127 108.1L142.5 101.1"/>
<path d="M127.8 131.6L135.9 136.1"/>
<path d="M94.1 195.6L102.8 187.6"/>
<path d="M122.8 226.5L131.2 224"/>
<path d="M657.4 113.4L652.3 121.2"/>
<path d="M748.5 115.6L755.2 124.1"/>
<path d="M676.4 137L685.3 143.5"/>
<path d="M731.4 213.6L726.9 227"/>
</g>
<g stroke="#000" stroke-opacity=".65" stroke-width=".8" fill="none">
<circle cx="164.9" cy="29.2" r="4.6"/>
<circle cx="86.6" cy="128.1" r="4.6"/>
<circle cx="121.8" cy="110.4" r="4.6"/>
<circle cx="122.8" cy="129.3" r="4.6"/>
<circle cx="89.8" cy="199.6" r="4.6"/>
<circle cx="117.8" cy="228.2" r="4.6"/>
<circle cx="649.4" cy="125.4" r="4.6"/>
<circle cx="758.3" cy="127.9" r="4.6"/>
<circle cx="672.4" cy="134.1" r="4.6"/>
<circle cx="725.1" cy="231" r="4.6"/>
</g>
<g font-size="16" fill="#383838" style="filter:grayscale(1)">
<text x="180.4" y="30.1" textLength="52.7">Osbpl3</text>
<text x="66.1" y="95.8">Syngr1</text>
<text x="143.8" y="105.2">Spp1</text>
<text x="138.2" y="144.5" textLength="45.9">Fabp5</text>
<text x="103.7" y="191.7" textLength="53.5">Mrgpre</text>
<text x="133.4" y="229.6" textLength="42.6">Lrtm2</text>
<text x="629.9" y="110.4" textLength="56.9">Cyp2b9</text>
<text x="713" y="113.7" textLength="66.1">Cyp2c69</text>
<text x="686.7" y="152.2" textLength="44.1">Ces1f</text>
<text x="732.8" y="216.6" textLength="46.6">Elovl3</text>
</g>
<rect x="53.5" y="5.5" width="738" height="539" fill="none" stroke="#bebebe" stroke-width="1.07"/>
<g stroke="#bebebe" stroke-width="1.07">
<path d="M111.2 544.5v4.3"/>
<path d="M258.7 544.5v4.3"/>
<path d="M406.1 544.5v4.3"/>
<path d="M553.5 544.5v4.3"/>
<path d="M701 544.5v4.3"/>
<path d="M53.5 542.5h-4.3"/>
<path d="M53.5 421.5h-4.3"/>
<path d="M53.5 300.5h-4.3"/>
<path d="M53.5 179.5h-4.3"/>
<path d="M53.5 58.5h-4.3"/>
</g>
<g font-size="12.8" fill="#4d4d4d" style="filter:grayscale(1)">
<text x="111.2" y="562" text-anchor="middle">-2</text>
<text x="258.7" y="562" text-anchor="middle">-1</text>
<text x="406.1" y="562" text-anchor="middle">0</text>
<text x="553.5" y="562" text-anchor="middle">1</text>
<text x="701" y="562" text-anchor="middle">2</text>
<text x="46.4" y="547.6" text-anchor="end">0</text>
<text x="46.4" y="426.6" text-anchor="end">5</text>
<text x="46.4" y="305.6" text-anchor="end">10</text>
<text x="46.4" y="184.6" text-anchor="end">15</text>
<text x="46.4" y="63.6" text-anchor="end">20</text>
</g>
<g font-size="16" fill="#000" style="filter:grayscale(1)">
<text x="422.5" y="581.1" text-anchor="middle">Fold Change (Log<tspan font-size="11.2" dy="3.5">2</tspan><tspan dy="-3.5">)</tspan></text>
<text transform="translate(19.6 274.7) rotate(-90)" text-anchor="middle">Significance (<tspan font-family="DejaVu Sans" font-size="16">−</tspan><tspan dx="2.2">Log</tspan><tspan font-size="11.2" dy="3.5">10</tspan><tspan dy="-3.5">)</tspan></text>
</g>
</svg>
</div>
</body>
</html>
